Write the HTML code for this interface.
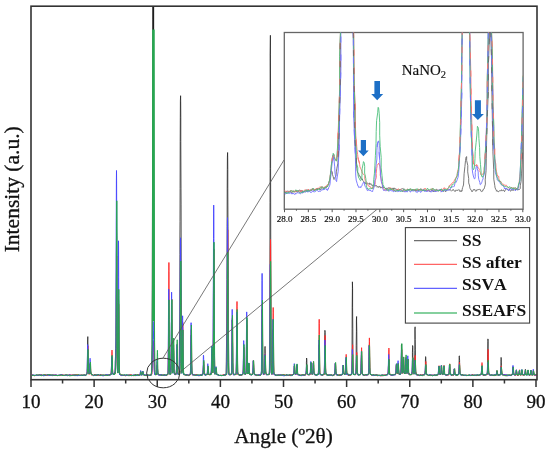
<!DOCTYPE html><html><head><meta charset="utf-8"><title>XRD</title><style>html,body{margin:0;padding:0;background:#fff;}
svg{display:block;}
text{font-family:"Liberation Serif",serif;fill:#111;font-kerning:none;}
.tl{font-size:19px;stroke:#111;stroke-width:0.3px;}
.al{font-size:21px;stroke:#111;stroke-width:0.3px;}
.il{font-size:9px;fill:#111;stroke:#111;stroke-width:0.2px;}
.na{font-size:15px;fill:#111;stroke:#111;stroke-width:0.15px;}
.lg{font-size:17.5px;font-weight:bold;}
</style></head><body><svg width="550" height="451" viewBox="0 0 550 451">
<defs><clipPath id="cm"><rect x="31" y="6.2" width="506" height="373.5"/></clipPath><clipPath id="ci"><rect x="284.3" y="32.5" width="238.8" height="176.7"/></clipPath></defs>
<g clip-path="url(#cm)" fill="none" stroke-linejoin="round">
<polyline stroke="#1e1e1e" stroke-width="0.75" points="32.0,374.8 33.0,375.1 34.0,375.5 35.0,375.4 36.0,375.5 37.0,375.1 38.0,375.6 39.0,375.2 40.0,374.7 41.0,375.1 42.0,374.7 43.0,375.7 44.0,375.7 45.0,375.0 46.0,375.0 47.0,375.5 48.0,374.8 49.0,374.8 50.0,374.8 51.0,375.0 52.0,375.4 53.0,375.8 54.0,374.9 55.0,375.7 56.0,375.3 57.0,375.7 58.0,375.6 59.0,374.8 60.0,375.4 61.0,374.7 62.0,374.6 63.0,375.1 64.0,375.5 65.0,375.3 66.0,374.8 67.0,375.6 68.0,375.7 69.0,374.9 70.0,375.1 71.0,375.4 72.0,375.7 73.0,374.8 74.0,375.3 75.0,375.8 76.0,375.3 77.0,375.5 78.0,375.5 79.0,375.2 80.0,374.9 81.0,375.3 82.0,375.2 83.0,374.9 84.0,375.5 84.8,374.9 85.0,375.0 85.5,375.2 86.0,375.1 86.2,375.1 86.5,374.5 86.8,373.6 87.0,373.7 87.1,372.8 87.2,371.6 87.3,366.3 87.5,355.5 87.5,346.9 87.7,339.9 87.8,336.6 87.8,340.0 88.0,347.2 88.0,350.7 88.0,355.7 88.2,366.1 88.4,371.6 88.5,372.8 88.7,373.7 89.0,373.5 89.0,373.6 89.2,374.0 89.3,373.9 89.5,373.6 89.7,371.6 89.8,368.4 90.0,365.8 90.0,364.8 90.0,364.1 90.2,363.8 90.2,364.8 90.3,366.1 90.5,368.6 90.6,372.2 90.8,373.1 90.8,373.8 91.0,374.3 91.0,374.4 91.3,374.5 91.8,374.8 92.0,375.1 92.3,374.5 93.0,375.4 93.2,375.5 94.0,374.6 95.0,374.8 96.0,374.9 97.0,374.7 98.0,374.8 99.0,375.4 100.0,374.7 101.0,374.7 102.0,375.7 103.0,375.1 104.0,375.2 105.0,375.2 106.0,375.0 107.0,375.1 108.0,374.7 108.8,375.1 109.0,374.7 109.7,374.5 110.0,374.5 110.2,374.6 110.7,374.9 111.0,374.1 111.0,374.5 111.2,372.9 111.4,369.9 111.5,365.9 111.7,361.6 111.8,359.6 111.8,357.7 112.0,358.7 112.0,360.0 112.0,361.7 112.2,366.1 112.3,370.7 112.5,372.9 112.7,373.2 112.8,373.2 113.0,373.6 113.0,373.9 113.5,374.5 113.5,374.5 114.0,374.6 114.0,374.5 114.3,373.8 114.5,374.1 114.8,373.3 114.8,373.4 115.0,372.2 115.0,372.7 115.2,367.6 115.3,361.9 115.5,356.3 115.5,352.2 115.7,348.6 115.8,348.4 115.8,346.0 115.9,345.1 116.0,341.8 116.0,336.6 116.1,320.1 116.2,283.1 116.3,269.4 116.3,256.0 116.5,235.5 116.5,228.9 116.7,236.4 116.8,257.0 116.8,285.3 117.0,313.5 117.0,325.3 117.2,358.9 117.2,363.3 117.3,368.2 117.5,371.0 117.7,373.0 117.8,372.5 117.8,371.0 117.9,370.1 118.0,366.1 118.1,358.3 118.2,352.6 118.2,336.4 118.3,318.9 118.5,305.0 118.5,298.9 118.7,304.7 118.8,319.1 118.8,336.6 119.0,358.6 119.2,370.3 119.5,373.8 119.5,374.5 119.8,373.8 120.0,374.7 120.2,374.6 120.8,374.4 121.0,375.4 121.5,375.3 122.0,374.9 123.0,375.6 124.0,374.7 125.0,375.6 126.0,375.6 127.0,374.7 128.0,375.7 129.0,375.5 130.0,375.7 131.0,374.9 132.0,375.5 133.0,375.5 134.0,375.0 135.0,374.6 136.0,374.6 137.0,375.2 137.7,375.2 138.0,374.7 138.4,375.3 139.0,374.5 139.1,375.0 139.4,375.0 139.8,374.6 140.0,374.2 140.2,374.7 140.3,373.8 140.4,372.8 140.6,371.6 140.7,372.0 140.8,372.7 140.8,373.0 140.9,373.6 141.0,373.1 141.1,374.2 141.2,374.0 141.3,375.2 141.6,374.2 141.8,374.5 142.0,375.2 142.1,374.2 142.2,374.1 142.3,373.9 142.4,373.8 142.6,372.9 142.7,372.7 142.8,371.6 142.8,371.7 142.9,372.5 143.0,373.3 143.1,373.5 143.2,374.7 143.4,375.0 143.7,374.4 143.9,374.8 144.0,374.7 144.3,374.8 144.9,375.3 145.0,375.1 145.8,375.5 146.0,374.6 147.0,375.7 148.0,374.8 149.0,375.4 150.0,375.5 150.2,374.5 150.9,374.9 151.0,375.4 151.6,371.6 151.9,350.7 152.0,344.3 152.2,290.3 152.5,191.8 152.7,91.0 152.8,19.7 152.9,-17.7 153.0,-31.6 153.1,-41.2 153.2,-49.5 153.2,-41.9 153.3,-17.9 153.4,19.7 153.6,91.8 153.8,191.8 154.0,274.6 154.1,289.9 154.2,316.8 154.3,350.2 154.8,372.2 154.9,373.8 155.0,374.5 155.3,374.7 155.6,374.5 155.9,373.9 156.0,374.9 156.2,373.8 156.2,374.3 156.5,374.3 156.7,372.4 156.8,369.2 156.9,367.8 157.0,366.0 157.1,365.7 157.2,365.0 157.2,365.8 157.3,367.1 157.4,369.3 157.6,371.9 157.8,374.3 158.0,374.6 158.1,374.2 158.3,375.0 158.8,375.0 159.0,374.6 159.3,375.0 160.0,374.6 160.2,374.7 161.0,374.6 162.0,374.7 163.0,375.3 164.0,375.5 165.0,375.5 165.8,374.7 166.0,375.6 166.6,374.7 167.0,374.9 167.2,374.8 167.6,374.3 167.8,374.1 168.0,373.7 168.1,372.3 168.3,364.6 168.4,352.4 168.6,341.9 168.7,332.9 168.8,330.3 168.8,332.9 168.9,341.0 169.0,347.2 169.1,352.4 169.2,364.5 169.4,372.1 169.4,372.7 169.7,373.1 169.9,374.1 170.0,373.8 170.1,374.2 170.3,372.1 170.4,370.7 170.8,363.5 170.9,353.7 171.0,351.1 171.2,337.2 171.2,334.8 171.3,329.1 171.4,323.3 171.6,320.1 171.7,319.4 171.8,320.7 171.8,323.8 171.9,328.4 172.0,331.0 172.1,337.7 172.2,347.7 172.3,350.2 172.6,362.3 172.8,368.7 172.8,368.0 173.0,366.6 173.2,361.0 173.2,355.7 173.3,351.3 173.4,349.6 173.6,351.1 173.7,356.3 173.8,360.8 173.8,366.2 173.9,368.2 173.9,370.1 174.0,370.7 174.1,372.1 174.3,373.6 174.7,374.2 174.8,374.1 175.0,374.7 175.1,374.2 175.3,373.9 175.7,374.3 175.8,373.9 176.0,373.2 176.1,373.6 176.3,372.0 176.4,370.1 176.5,368.9 176.7,361.9 176.8,356.6 176.8,351.1 176.9,350.2 177.0,350.5 177.1,351.2 177.2,356.0 177.2,361.2 177.4,368.2 177.6,372.0 177.6,372.5 177.8,373.6 178.0,374.2 178.2,374.3 178.3,373.7 178.6,374.3 178.9,373.0 179.0,371.4 179.2,369.0 179.3,358.0 179.7,319.0 179.9,254.5 179.9,238.1 180.0,221.7 180.1,188.7 180.2,141.3 180.3,117.1 180.4,100.7 180.6,95.7 180.7,101.6 180.8,117.3 180.8,141.3 181.0,188.9 181.1,204.9 181.2,254.0 181.4,318.5 181.8,358.3 182.0,367.3 182.2,365.1 182.2,363.1 182.3,351.5 182.4,341.5 182.6,333.1 182.7,329.9 182.8,332.9 182.8,341.4 182.9,352.5 183.0,356.7 183.1,364.8 183.3,371.8 183.6,373.3 183.8,374.2 184.0,374.5 184.2,374.5 184.8,374.5 185.0,374.5 185.7,374.5 186.0,375.3 187.0,375.1 188.0,375.4 188.2,375.5 188.9,375.2 189.0,375.3 189.6,375.2 189.9,374.9 190.0,374.8 190.2,374.5 190.5,372.1 190.7,366.3 190.8,355.0 190.9,345.8 191.0,341.7 191.1,338.2 191.2,335.1 191.2,337.9 191.3,345.9 191.4,354.3 191.6,365.9 191.8,372.8 192.0,373.6 192.1,373.6 192.3,374.2 192.8,374.6 193.0,374.8 193.3,374.6 194.0,374.7 194.2,374.6 195.0,375.1 196.0,374.7 197.0,375.0 198.0,374.8 199.0,375.3 200.0,375.3 200.6,374.8 201.0,375.7 201.3,374.8 201.9,375.4 202.0,374.6 202.3,374.8 202.7,374.5 202.9,373.9 203.0,373.0 203.1,372.5 203.2,369.6 203.3,367.4 203.4,365.6 203.6,364.7 203.7,365.5 203.8,367.6 203.8,369.7 204.0,372.7 204.2,374.0 204.4,375.0 204.8,374.4 204.8,374.4 205.0,375.3 205.2,374.7 205.7,375.0 205.8,375.3 206.0,374.4 206.2,374.4 206.6,374.7 206.7,374.4 206.9,374.0 207.0,374.7 207.2,374.2 207.4,372.8 207.6,371.2 207.7,369.3 207.8,368.2 207.8,367.7 207.9,368.5 208.0,368.8 208.1,369.6 208.2,371.1 208.3,373.0 208.5,373.5 208.8,374.8 208.8,375.0 209.0,374.1 209.1,374.9 209.4,374.7 209.7,374.9 210.0,374.0 210.1,374.0 210.2,374.5 210.7,374.3 210.8,373.6 210.8,374.3 210.9,373.3 211.0,374.1 211.2,373.1 211.4,369.6 211.6,364.4 211.7,359.3 211.8,356.1 211.8,354.0 211.9,356.2 212.0,357.1 212.1,358.9 212.2,364.0 212.3,368.5 212.5,372.3 212.6,373.0 212.8,372.5 212.8,371.7 212.9,369.8 213.0,367.8 213.1,364.8 213.1,360.6 213.3,333.3 213.4,298.2 213.6,274.0 213.7,256.3 213.8,249.2 213.8,255.9 213.9,273.6 214.0,285.6 214.1,298.2 214.2,332.5 214.3,356.1 214.4,361.3 214.7,371.6 214.8,373.6 214.8,373.2 214.9,374.3 215.0,373.9 215.1,373.6 215.3,373.1 215.3,373.6 215.5,372.0 215.7,370.5 215.8,369.9 215.8,368.5 215.9,367.9 216.0,367.9 216.1,368.3 216.2,369.7 216.2,371.3 216.4,372.3 216.6,374.5 216.8,374.9 216.8,374.5 217.0,374.4 217.2,374.2 217.6,374.7 218.0,374.4 218.2,375.2 218.9,375.2 219.0,375.4 220.0,375.6 221.0,375.0 222.0,375.5 223.0,375.4 224.0,375.2 224.6,374.5 225.0,375.4 225.3,375.0 225.9,373.4 226.0,373.3 226.3,361.6 226.7,330.0 226.9,279.4 227.0,253.6 227.1,226.5 227.2,189.1 227.3,169.8 227.4,157.1 227.6,152.5 227.7,157.0 227.8,169.5 227.8,188.6 228.0,226.8 228.2,278.5 228.4,330.1 228.8,362.1 229.0,371.1 229.2,373.7 229.2,373.7 229.8,374.7 230.0,374.3 230.1,375.1 230.6,374.4 230.7,374.8 231.0,374.6 231.1,374.3 231.3,373.4 231.6,372.3 231.8,362.1 231.9,347.5 232.0,340.3 232.1,334.3 232.2,323.9 232.2,319.8 232.3,324.0 232.4,334.6 232.6,347.4 232.7,362.1 232.9,371.6 233.0,372.8 233.2,374.4 233.4,374.4 233.8,375.2 234.0,374.3 234.4,374.9 234.7,374.7 235.0,374.4 235.2,374.2 235.7,374.4 235.9,374.3 236.0,373.7 236.2,371.7 236.4,362.8 236.6,345.9 236.7,332.8 236.8,322.6 236.8,317.4 236.9,321.6 237.0,327.2 237.1,333.0 237.2,346.7 237.3,362.4 237.5,371.5 237.8,374.2 238.0,374.3 238.1,374.6 238.4,374.4 239.0,374.3 239.1,375.4 239.8,375.4 240.0,374.5 240.8,374.5 241.0,375.3 241.6,375.1 242.0,374.7 242.2,375.1 242.6,374.7 242.8,374.3 243.0,374.0 243.1,373.1 243.3,368.0 243.4,361.9 243.6,355.7 243.7,352.1 243.8,350.2 243.8,351.7 243.9,356.0 244.0,359.1 244.1,361.4 244.2,368.6 244.4,373.1 244.6,372.9 244.7,373.5 244.9,374.3 245.0,373.6 245.2,373.9 245.3,374.4 245.6,374.0 245.8,373.5 245.8,373.5 245.9,373.0 246.0,372.9 246.1,372.2 246.3,363.1 246.4,349.1 246.6,338.2 246.7,328.3 246.8,324.8 246.8,328.7 246.9,337.2 247.0,343.1 247.1,348.8 247.2,358.9 247.2,362.7 247.4,371.1 247.6,373.4 247.7,373.7 247.8,373.6 247.9,373.4 248.0,373.6 248.1,373.5 248.3,371.0 248.3,370.7 248.4,367.9 248.6,366.0 248.7,364.3 248.8,363.7 248.8,364.0 248.9,366.2 249.0,367.0 249.1,368.5 249.2,371.9 249.4,373.1 249.7,373.9 249.8,374.3 249.9,374.0 250.0,374.9 250.3,374.4 250.9,374.5 251.0,374.5 251.2,374.6 251.8,374.5 252.0,374.4 252.2,374.3 252.4,373.7 252.7,372.7 252.9,371.3 253.0,369.0 253.1,367.5 253.2,364.3 253.2,362.4 253.3,360.5 253.4,361.3 253.6,364.8 253.7,367.3 253.8,371.0 254.0,373.3 254.2,374.4 254.6,374.7 254.9,375.0 255.0,374.8 255.6,375.3 256.0,375.2 256.4,375.5 257.0,375.4 258.0,374.6 259.0,375.0 259.1,375.3 259.9,375.2 260.0,374.8 260.6,374.8 260.9,374.8 261.0,374.0 261.2,373.6 261.5,371.1 261.7,360.2 261.9,342.4 261.9,327.2 262.0,320.8 262.1,314.7 262.1,309.5 262.2,314.2 262.4,327.2 262.4,341.8 262.6,360.1 262.8,371.2 262.9,372.6 263.0,373.2 263.1,373.4 263.4,373.5 263.4,374.6 263.8,374.4 263.9,374.0 264.0,373.4 264.1,374.2 264.4,373.0 264.4,372.7 264.6,368.0 264.8,360.2 264.9,353.7 264.9,349.0 265.0,346.7 265.1,346.4 265.1,348.7 265.2,353.8 265.4,360.1 265.5,367.9 265.7,372.1 265.9,373.5 266.0,373.4 266.2,374.5 266.6,374.7 267.0,374.1 267.2,374.4 267.4,374.6 268.0,375.1 268.1,375.0 268.1,374.3 268.8,374.5 269.0,374.5 269.1,374.5 269.4,369.8 269.7,340.9 269.9,264.1 270.0,202.6 270.1,168.4 270.1,102.7 270.2,54.0 270.4,35.3 270.4,54.2 270.6,103.3 270.6,168.2 270.8,264.1 270.9,289.5 271.0,340.6 271.2,370.3 271.4,373.8 271.6,373.9 271.9,373.6 271.9,373.8 272.0,374.4 272.1,373.7 272.4,372.4 272.6,367.6 272.6,364.6 272.8,352.3 272.9,341.5 272.9,332.7 273.0,330.7 273.1,329.5 273.1,332.9 273.2,341.1 273.4,352.0 273.5,364.9 273.7,372.6 273.9,374.2 274.0,374.3 274.2,374.7 274.6,374.3 275.0,374.9 275.2,375.4 276.0,375.2 276.1,374.9 277.0,375.4 278.0,375.6 279.0,375.1 280.0,374.9 281.0,375.0 282.0,375.5 283.0,374.8 284.0,374.9 285.0,375.8 286.0,374.7 287.0,374.7 288.0,375.6 289.0,375.4 290.0,375.6 291.0,375.6 291.4,374.7 292.0,375.3 292.1,374.7 292.8,375.1 293.0,374.2 293.1,375.0 293.4,374.1 293.7,374.1 293.9,372.8 293.9,372.5 294.0,370.7 294.1,369.4 294.1,367.8 294.2,366.2 294.4,366.5 294.4,365.9 294.6,368.3 294.6,369.5 294.8,372.0 295.0,374.0 295.2,374.3 295.6,373.8 295.6,374.1 295.9,374.0 296.0,374.3 296.2,373.7 296.4,372.2 296.6,369.3 296.6,367.9 296.8,366.4 296.9,365.4 296.9,366.6 297.0,366.7 297.1,367.9 297.1,369.5 297.3,372.2 297.4,372.4 297.5,374.0 297.8,374.5 298.0,375.2 298.1,374.4 298.4,374.4 299.0,374.9 299.1,375.3 299.9,374.8 300.0,375.7 301.0,374.9 302.0,375.3 303.0,374.6 303.6,375.1 304.0,375.3 304.4,374.9 305.0,374.5 305.1,374.8 305.4,375.0 305.8,373.8 306.0,373.4 306.2,370.4 306.4,366.6 306.4,362.2 306.6,360.1 306.6,358.0 306.8,360.2 306.9,361.9 306.9,365.8 307.0,367.3 307.1,370.0 307.3,373.5 307.6,373.6 307.9,374.4 308.0,374.5 308.2,374.0 308.6,374.9 308.9,375.2 309.0,374.6 309.2,374.2 309.6,374.1 309.9,374.1 310.0,374.5 310.2,373.6 310.4,371.8 310.4,370.9 310.6,368.4 310.6,365.6 310.8,363.3 310.9,363.1 310.9,363.3 311.0,364.8 311.1,365.9 311.1,368.4 311.3,370.9 311.5,373.2 311.8,374.3 312.0,373.8 312.1,373.5 312.1,373.5 312.4,374.0 312.7,373.2 312.9,371.6 313.0,369.9 313.1,368.3 313.1,365.6 313.2,364.1 313.4,363.0 313.4,363.1 313.6,365.4 313.6,368.4 313.8,371.1 313.9,372.7 314.0,372.9 314.2,374.6 314.6,374.9 314.9,374.5 315.0,374.5 315.6,374.9 316.0,374.6 316.1,375.5 316.4,375.1 316.9,374.8 317.0,374.5 317.4,374.7 317.9,374.5 318.0,374.5 318.1,374.2 318.4,372.9 318.6,367.2 318.8,359.4 318.9,352.5 318.9,347.5 319.0,345.2 319.1,344.8 319.1,346.9 319.2,352.5 319.4,360.0 319.5,368.2 319.7,373.2 319.9,373.8 320.0,374.0 320.2,373.8 320.6,374.8 321.0,374.7 321.2,374.7 321.9,375.3 322.0,375.5 322.1,375.1 322.8,375.1 323.0,375.0 323.4,375.0 323.8,374.5 324.0,374.6 324.1,373.6 324.3,372.3 324.5,364.7 324.6,351.8 324.8,341.9 324.9,332.6 324.9,330.3 325.0,331.0 325.1,332.7 325.1,342.1 325.2,351.8 325.4,365.0 325.6,371.6 325.9,374.4 326.0,374.6 326.1,374.3 326.6,374.6 327.0,374.9 327.1,374.5 327.9,375.6 328.0,375.1 329.0,375.3 330.0,375.3 331.0,374.7 332.0,375.3 332.4,375.6 333.0,375.6 333.1,374.9 333.8,374.7 334.0,375.3 334.1,374.9 334.4,374.5 334.7,373.8 334.9,372.0 335.0,369.4 335.1,368.2 335.1,365.7 335.2,363.4 335.4,363.1 335.4,363.2 335.6,366.0 335.6,368.1 335.8,371.4 336.0,373.1 336.2,374.7 336.6,374.2 336.9,374.3 337.0,375.2 337.6,374.4 338.0,374.8 338.4,375.6 339.0,374.7 340.0,375.1 340.1,375.3 340.9,375.1 341.0,375.0 341.6,375.1 341.9,374.1 342.0,374.3 342.2,373.9 342.5,374.3 342.7,372.5 342.9,369.0 342.9,367.3 343.0,366.6 343.1,365.6 343.1,365.1 343.2,365.8 343.4,366.7 343.4,368.8 343.6,371.6 343.8,373.2 343.9,373.3 344.0,373.8 344.1,374.0 344.4,374.2 344.4,373.9 344.8,374.3 344.9,374.3 345.0,373.7 345.1,374.4 345.4,373.5 345.4,373.5 345.6,370.5 345.8,366.9 345.9,363.6 345.9,361.4 346.0,359.9 346.1,359.8 346.1,361.4 346.2,363.2 346.4,366.5 346.5,370.3 346.7,372.6 346.9,374.5 347.0,373.5 347.2,374.4 347.6,374.7 348.0,375.2 348.2,375.4 349.0,375.2 349.1,374.9 349.4,375.4 350.0,374.5 350.2,375.0 350.9,374.4 351.0,375.1 351.2,373.9 351.6,374.0 351.8,370.2 352.0,355.7 352.1,328.4 352.2,307.3 352.4,288.5 352.4,281.8 352.6,288.9 352.6,307.1 352.8,329.1 352.9,355.1 353.0,364.8 353.1,370.2 353.4,373.3 353.6,374.6 353.6,374.2 354.0,374.4 354.1,374.8 354.4,374.7 354.6,374.6 354.9,374.4 355.0,374.6 355.4,373.7 355.4,374.4 355.6,373.6 355.9,371.3 356.0,367.7 356.1,362.5 356.2,345.3 356.4,331.2 356.4,321.2 356.6,316.5 356.6,320.9 356.8,331.2 356.9,345.0 357.0,362.2 357.2,371.6 357.4,374.1 357.8,374.6 358.0,374.7 358.1,375.1 358.4,375.1 358.8,374.9 359.0,374.3 359.2,374.8 359.6,374.7 359.9,374.5 360.0,375.0 360.2,374.4 360.6,374.4 360.8,373.4 361.0,369.9 361.1,363.7 361.2,360.0 361.4,356.1 361.4,355.2 361.6,355.9 361.6,359.3 361.8,364.5 361.9,369.9 362.0,372.0 362.1,372.5 362.4,374.2 362.6,374.9 363.0,375.1 363.1,374.8 363.6,374.7 364.0,375.5 364.4,375.5 365.0,375.4 366.0,374.9 366.2,374.5 367.0,374.8 367.1,375.2 367.6,374.4 368.0,374.3 368.1,374.2 368.4,374.4 368.6,372.4 368.8,367.8 368.9,359.2 369.0,356.6 369.1,352.3 369.1,347.6 369.2,344.9 369.4,347.4 369.4,353.2 369.6,358.9 369.7,367.3 369.9,372.3 370.0,373.1 370.1,374.3 370.4,374.2 370.9,374.8 371.0,374.3 371.4,374.9 372.0,374.8 372.2,375.3 373.0,374.9 374.0,374.7 375.0,375.2 376.0,374.9 377.0,374.6 378.0,375.2 379.0,375.3 380.0,375.5 381.0,375.5 382.0,374.6 383.0,375.1 384.0,374.9 385.0,375.5 385.8,375.2 386.0,374.7 386.6,375.0 387.0,375.2 387.1,374.9 387.6,374.6 387.9,374.1 388.0,374.3 388.1,373.6 388.3,370.6 388.4,367.3 388.6,364.0 388.6,360.9 388.8,359.9 388.9,360.4 388.9,364.0 389.0,364.7 389.1,366.5 389.2,371.1 389.4,373.7 389.6,373.7 389.9,374.5 390.0,374.3 390.4,375.0 390.9,374.9 391.0,375.1 391.8,375.2 392.0,375.6 393.0,374.8 393.4,374.4 394.0,374.7 394.1,374.4 394.8,374.3 395.0,374.1 395.1,374.3 395.4,374.4 395.7,373.2 395.9,371.9 395.9,371.5 396.0,370.4 396.1,369.1 396.1,367.4 396.2,365.9 396.4,365.2 396.4,365.2 396.6,367.3 396.6,369.3 396.8,371.4 396.9,372.6 397.0,373.4 397.2,372.9 397.5,372.5 397.6,373.4 397.7,371.4 397.9,368.3 397.9,366.2 398.0,364.8 398.1,363.9 398.1,363.5 398.2,364.6 398.4,366.7 398.4,368.0 398.6,370.4 398.6,371.8 398.8,373.3 399.0,374.3 399.1,373.8 399.4,374.4 399.8,374.7 399.9,374.2 400.0,373.8 400.4,373.5 400.4,373.5 400.6,373.7 400.9,372.7 401.0,370.0 401.1,367.0 401.1,364.2 401.2,358.4 401.4,351.5 401.4,345.5 401.6,344.1 401.6,346.4 401.8,351.4 401.9,359.0 402.0,367.3 402.2,372.2 402.2,372.4 402.4,372.6 402.6,373.2 402.8,372.3 402.8,372.8 402.9,372.3 403.0,369.5 403.1,366.4 403.2,362.4 403.4,360.1 403.4,359.2 403.6,360.8 403.6,363.2 403.8,366.3 403.9,370.3 404.0,371.5 404.1,372.2 404.2,372.6 404.4,373.5 404.6,373.2 404.6,373.3 404.9,373.0 404.9,373.8 405.0,372.8 405.1,372.5 405.2,372.3 405.4,369.7 405.6,365.8 405.6,362.4 405.8,360.8 405.9,359.3 405.9,360.7 406.0,361.7 406.1,362.4 406.1,366.4 406.2,368.6 406.3,370.3 406.4,371.8 406.5,372.1 406.6,372.4 406.8,372.6 406.9,372.6 407.0,373.1 407.1,373.4 407.2,371.9 407.4,370.5 407.4,368.8 407.6,366.7 407.6,362.9 407.8,360.1 407.9,359.2 407.9,361.0 408.0,362.1 408.1,362.6 408.1,366.3 408.3,370.5 408.5,372.9 408.8,373.9 408.9,374.1 409.0,373.7 409.1,373.7 409.4,373.9 409.6,374.0 410.0,374.5 410.1,374.5 410.4,374.2 410.9,374.7 411.0,374.6 411.1,374.5 411.4,374.5 411.8,374.4 412.0,372.0 412.1,372.3 412.2,367.3 412.4,359.5 412.4,352.5 412.6,347.7 412.6,345.5 412.8,346.7 412.9,352.1 412.9,359.3 413.0,362.3 413.1,367.7 413.3,372.5 413.4,373.6 413.6,373.7 413.9,373.9 414.0,373.1 414.1,373.5 414.2,373.4 414.4,371.8 414.6,364.0 414.8,350.3 414.9,339.6 414.9,330.1 415.0,327.8 415.1,326.8 415.1,329.4 415.2,339.6 415.4,349.8 415.5,364.1 415.6,371.2 415.7,371.6 415.9,374.0 416.0,374.1 416.2,374.7 416.6,375.0 417.0,374.4 417.2,374.4 418.0,375.4 418.1,374.6 419.0,375.6 420.0,374.5 421.0,375.2 422.0,375.4 422.6,374.6 423.0,375.0 423.4,374.9 424.0,374.5 424.1,374.8 424.4,374.1 424.8,373.5 425.0,372.7 425.2,370.3 425.4,365.6 425.4,361.0 425.6,357.5 425.6,356.6 425.8,358.2 425.9,361.8 425.9,365.0 426.0,367.0 426.1,370.4 426.3,372.6 426.6,374.5 426.9,375.0 427.0,375.0 427.2,374.6 427.9,375.2 428.0,375.2 428.6,375.4 429.0,374.8 430.0,375.6 431.0,375.5 432.0,375.1 433.0,375.5 434.0,375.0 435.0,375.6 435.9,375.5 436.0,375.3 436.6,375.1 437.0,374.9 437.2,375.0 437.6,374.7 437.9,374.3 438.0,374.0 438.2,373.9 438.4,372.9 438.4,372.3 438.6,369.4 438.6,367.5 438.8,367.0 438.9,366.4 438.9,366.2 439.0,367.5 439.1,368.2 439.1,369.4 439.3,372.1 439.5,373.2 439.8,374.0 440.0,374.4 440.1,374.5 440.1,374.7 440.4,374.2 440.7,374.2 440.9,372.6 440.9,372.2 441.0,371.1 441.1,369.5 441.1,368.5 441.2,365.9 441.4,365.9 441.4,366.4 441.6,368.2 441.6,369.7 441.8,371.9 441.9,372.7 442.0,373.1 442.2,374.6 442.6,374.6 442.6,374.6 442.9,374.1 443.0,373.7 443.2,374.2 443.4,371.7 443.6,370.2 443.6,368.1 443.8,366.2 443.9,366.4 443.9,366.6 444.0,366.6 444.1,368.5 444.1,370.5 444.3,372.5 444.4,372.6 444.5,373.6 444.8,374.2 445.0,374.2 445.1,374.5 445.4,374.3 446.0,375.0 446.1,375.3 446.6,374.7 446.9,374.6 447.0,375.5 447.4,374.5 447.9,374.7 448.0,374.7 448.4,374.1 448.6,374.6 448.9,373.8 449.0,373.4 449.1,371.6 449.2,369.4 449.4,366.8 449.4,365.0 449.6,364.0 449.6,364.9 449.8,366.6 449.9,368.8 450.0,372.4 450.2,373.4 450.4,374.0 450.8,374.2 451.0,374.2 451.1,374.5 451.4,375.4 451.8,374.6 452.0,375.3 452.1,375.1 452.6,374.7 452.8,374.7 453.0,375.0 453.1,374.7 453.4,375.2 453.7,374.5 453.9,372.7 454.0,371.9 454.1,372.1 454.1,369.9 454.2,368.9 454.4,368.8 454.4,369.8 454.6,370.2 454.6,371.5 454.8,373.6 455.0,374.5 455.2,375.0 455.6,374.6 455.9,374.5 456.0,375.3 456.4,374.6 456.6,375.2 457.0,375.3 457.1,374.6 457.4,374.9 457.8,374.4 458.0,374.7 458.1,373.9 458.4,373.8 458.7,373.1 458.9,369.9 459.0,366.6 459.1,364.6 459.1,360.3 459.2,356.2 459.4,355.8 459.4,357.3 459.6,360.5 459.6,365.0 459.8,370.3 460.0,372.7 460.2,373.8 460.6,374.9 460.9,374.1 461.0,374.6 461.6,374.6 462.0,374.9 462.4,374.9 463.0,375.0 464.0,375.5 465.0,375.4 466.0,375.5 467.0,375.7 468.0,375.3 469.0,374.7 470.0,375.3 471.0,375.4 472.0,374.6 473.0,374.9 474.0,375.6 475.0,375.3 476.0,374.9 477.0,374.9 478.0,375.2 478.9,375.6 479.0,374.6 479.6,375.0 480.0,374.6 480.2,374.5 480.6,374.2 480.9,374.5 481.0,374.3 481.2,374.4 481.4,372.0 481.6,369.6 481.6,367.8 481.8,366.6 481.9,365.9 481.9,366.7 482.0,367.6 482.1,368.6 482.1,370.2 482.3,372.7 482.5,374.3 482.8,374.6 483.0,375.2 483.1,374.8 483.4,375.4 484.0,374.9 484.1,374.6 484.9,375.4 484.9,374.8 485.0,374.8 485.8,374.9 486.0,375.0 486.4,374.7 486.8,374.7 487.0,374.1 487.1,374.4 487.3,372.1 487.5,366.1 487.6,357.0 487.8,348.1 487.9,341.3 487.9,338.9 488.0,339.1 488.1,341.2 488.1,348.0 488.2,357.1 488.4,366.5 488.6,372.5 488.9,373.5 489.0,374.2 489.1,374.5 489.6,374.8 490.0,374.4 490.1,375.4 490.9,375.3 491.0,375.4 492.0,374.8 493.0,375.5 493.9,374.7 494.0,374.7 494.6,375.1 495.0,374.5 495.2,375.4 495.6,374.7 495.9,375.1 496.0,375.0 496.2,375.1 496.4,373.6 496.6,373.4 496.6,372.0 496.8,370.6 496.9,371.5 496.9,371.3 497.0,372.0 497.1,372.0 497.1,373.0 497.3,373.8 497.5,375.0 497.8,375.1 498.0,374.9 498.1,375.0 498.1,374.5 498.4,374.5 498.9,375.4 499.0,374.6 499.1,374.5 499.6,374.4 499.9,374.3 499.9,374.7 500.0,374.5 500.2,374.2 500.5,373.6 500.7,370.2 500.9,365.6 500.9,361.7 501.0,359.9 501.1,359.0 501.1,357.4 501.2,358.9 501.4,362.2 501.4,365.7 501.6,370.3 501.8,373.2 502.0,373.5 502.1,373.8 502.4,375.0 502.8,375.2 503.0,375.0 503.4,374.7 504.0,375.3 504.1,374.6 505.0,375.3 506.0,375.7 507.0,375.8 508.0,375.6 509.0,374.8 510.0,375.1 510.1,374.8 510.9,375.5 511.0,375.3 511.4,375.5 511.9,374.6 512.0,374.6 512.1,375.0 512.4,374.1 512.6,372.4 512.8,370.1 512.9,368.3 513.0,366.9 513.0,366.7 513.0,366.8 513.1,367.6 513.2,369.5 513.4,370.0 513.5,372.1 513.7,373.4 514.0,374.8 514.0,374.7 514.1,374.5 514.2,374.7 514.6,375.2 514.8,374.4 515.0,375.3 515.1,374.4 515.2,375.0 515.5,375.1 515.7,373.8 515.9,373.2 516.0,372.5 516.0,372.7 516.1,370.7 516.2,370.7 516.4,369.9 516.5,369.8 516.5,371.5 516.6,371.9 516.8,373.0 517.0,374.6 517.1,374.5 517.2,375.2 517.5,375.3 517.8,375.3 518.0,374.2 518.0,374.7 518.1,375.3 518.5,374.9 518.5,374.7 518.7,374.6 518.9,374.6 518.9,374.3 519.0,373.0 519.0,373.3 519.1,371.9 519.2,371.7 519.4,371.0 519.5,371.7 519.5,372.2 519.6,373.3 519.8,373.8 520.0,374.4 520.2,374.8 520.5,374.4 520.6,375.3 521.0,374.1 521.0,374.6 521.2,373.9 521.4,374.1 521.5,372.3 521.6,371.5 521.8,370.4 521.9,370.8 522.0,371.2 522.0,371.6 522.0,371.8 522.1,372.1 522.3,374.1 522.4,373.7 522.5,374.0 522.8,374.4 523.0,374.3 523.0,374.6 523.1,374.5 523.5,374.6 523.8,374.8 524.0,374.5 524.0,374.3 524.1,375.1 524.5,374.9 524.7,373.9 524.9,374.2 524.9,373.2 525.0,373.2 525.0,372.7 525.1,371.3 525.2,370.4 525.4,369.3 525.5,369.9 525.5,370.7 525.6,372.4 525.8,373.4 526.0,374.5 526.2,375.1 526.5,374.1 526.6,374.9 527.0,374.6 527.0,374.9 527.2,375.0 527.4,374.1 527.5,373.0 527.6,371.5 527.8,370.8 527.9,370.9 528.0,371.5 528.0,371.3 528.0,372.2 528.1,373.2 528.3,374.3 528.4,374.5 528.5,373.9 528.6,374.9 528.8,374.8 529.0,375.1 529.0,374.9 529.2,374.5 529.5,375.4 529.6,374.6 530.0,375.2 530.0,374.3 530.0,374.9 530.2,374.7 530.4,373.4 530.4,373.8 530.5,372.1 530.6,371.1 530.8,370.6 530.9,370.4 531.0,370.9 531.0,371.0 531.0,371.7 531.1,373.0 531.3,373.8 531.5,374.5 531.8,374.5 532.0,375.2 532.0,375.0 532.1,374.3 532.5,375.1 532.7,374.8 532.9,374.1 533.0,373.6 533.0,372.2 533.1,372.2 533.2,371.2 533.4,370.7 533.5,370.6 533.5,371.5 533.6,372.4 533.8,373.5 533.9,373.9 534.0,374.8 534.2,375.4 534.5,374.5 535.0,374.9 535.0,374.9 535.5,375.3 536.0,374.9 536.4,375.0"/>
<polyline stroke="#ff2a2a" stroke-width="0.95" points="32.0,375.3 33.0,374.8 34.0,375.8 35.0,375.7 36.0,375.2 37.0,375.4 38.0,374.9 39.0,374.9 40.0,374.9 41.0,375.4 42.0,374.9 43.0,375.8 44.0,374.7 45.0,374.8 46.0,374.7 47.0,375.5 48.0,375.0 49.0,375.2 50.0,375.0 51.0,375.4 52.0,375.1 53.0,374.8 54.0,375.1 55.0,375.0 56.0,374.7 57.0,375.6 58.0,375.4 59.0,375.4 60.0,375.7 61.0,375.1 62.0,375.1 63.0,375.1 64.0,375.1 65.0,375.4 66.0,374.6 67.0,375.2 68.0,375.2 69.0,375.0 70.0,374.6 71.0,375.4 72.0,374.6 73.0,375.3 74.0,374.8 75.0,374.6 76.0,374.8 77.0,374.7 78.0,374.8 79.0,375.4 80.0,375.5 81.0,375.0 82.0,375.4 83.0,375.1 84.0,375.1 84.9,375.5 85.0,374.8 85.7,375.3 86.0,375.0 86.3,374.9 86.7,373.8 87.0,373.4 87.2,372.0 87.3,371.7 87.5,368.3 87.6,360.2 87.7,353.6 87.8,347.4 87.9,346.1 88.0,348.2 88.1,353.5 88.2,360.0 88.3,367.2 88.5,372.0 88.7,373.7 88.8,373.9 89.0,374.3 89.1,373.8 89.4,374.2 89.5,373.2 89.7,373.7 89.8,371.7 90.0,367.9 90.1,365.1 90.2,363.6 90.3,363.0 90.4,363.4 90.5,365.1 90.6,367.9 90.8,371.8 90.9,372.6 91.0,373.9 91.0,373.3 91.2,373.8 91.5,374.0 91.9,375.3 92.0,375.2 92.5,374.7 93.0,374.6 93.3,375.3 94.0,375.6 95.0,374.6 96.0,375.4 97.0,375.6 98.0,375.2 99.0,375.3 100.0,375.6 101.0,374.9 102.0,374.9 103.0,375.4 104.0,375.3 105.0,375.2 106.0,375.0 107.0,375.7 108.0,374.9 109.0,375.3 109.8,375.4 110.0,374.8 110.4,374.2 110.8,374.1 111.0,373.6 111.1,373.6 111.3,372.3 111.5,368.4 111.7,361.6 111.8,356.1 111.9,351.8 112.0,350.1 112.1,351.8 112.2,356.0 112.3,361.9 112.5,368.6 112.7,372.2 112.8,373.6 112.9,373.6 113.0,374.2 113.2,374.4 113.6,374.0 113.7,374.2 114.0,374.2 114.2,374.0 114.5,373.5 114.6,373.4 114.9,374.1 115.0,373.6 115.1,372.9 115.2,372.9 115.3,370.1 115.5,367.0 115.6,364.4 115.7,361.5 115.8,359.3 115.9,358.6 116.0,356.2 116.0,353.0 116.1,350.1 116.2,331.4 116.4,300.1 116.5,289.2 116.5,277.9 116.6,262.0 116.7,256.0 116.8,261.5 116.9,279.2 117.0,301.3 117.1,324.7 117.2,334.8 117.3,362.1 117.4,365.4 117.5,369.3 117.6,371.8 117.8,372.3 117.9,372.7 118.0,371.3 118.0,370.1 118.2,358.8 118.3,353.2 118.4,339.7 118.5,322.6 118.6,309.4 118.7,304.2 118.8,309.4 118.9,323.5 119.0,339.7 119.2,359.6 119.3,371.5 119.6,373.7 119.7,373.4 119.9,373.9 120.0,374.3 120.3,374.8 120.9,375.3 121.0,374.9 121.7,374.7 122.0,375.2 123.0,375.6 124.0,375.0 125.0,375.7 126.0,375.7 127.0,375.3 128.0,375.2 129.0,374.8 130.0,374.7 131.0,374.6 132.0,375.3 133.0,375.5 134.0,375.8 135.0,375.3 136.0,375.8 137.0,375.1 137.8,374.7 138.0,374.6 138.6,374.9 139.0,375.1 139.2,375.7 139.6,374.8 139.9,374.6 140.0,375.1 140.2,374.6 140.3,374.3 140.5,372.9 140.6,373.1 140.7,372.7 140.8,372.2 140.9,372.7 141.0,372.5 141.1,372.8 141.2,373.9 141.3,374.8 141.4,374.6 141.7,374.4 142.0,374.4 142.2,374.2 142.4,374.3 142.4,374.7 142.6,373.8 142.7,373.0 142.8,372.4 142.9,371.6 143.0,372.5 143.1,372.4 143.2,373.4 143.3,373.6 143.6,375.2 143.8,374.5 144.0,375.1 144.1,375.2 144.5,375.2 145.0,375.3 145.1,375.0 145.9,375.5 146.0,375.7 147.0,375.3 148.0,375.8 149.0,375.5 150.0,374.5 150.3,375.3 151.0,374.5 151.1,375.1 151.7,374.4 152.0,373.9 152.1,372.1 152.4,368.4 152.7,359.6 152.8,351.7 153.0,345.9 153.1,343.1 153.2,342.2 153.3,341.3 153.4,342.1 153.5,343.2 153.6,346.7 153.8,352.5 153.9,360.3 154.0,361.6 154.2,368.3 154.3,370.1 154.5,372.8 154.9,374.1 155.0,374.3 155.1,374.8 155.5,374.6 155.7,374.5 156.0,374.9 156.1,374.3 156.3,374.6 156.4,373.5 156.7,373.3 156.8,371.4 157.0,367.1 157.1,365.2 157.2,362.5 157.3,362.1 157.4,362.9 157.5,364.6 157.6,368.3 157.8,370.9 157.9,372.9 158.0,373.5 158.2,373.6 158.5,374.1 158.9,375.1 159.0,374.3 159.5,375.0 160.0,375.5 160.3,375.0 161.0,375.5 162.0,375.5 163.0,374.8 164.0,374.6 165.0,375.4 165.9,375.5 166.0,375.5 166.7,375.2 167.0,374.8 167.3,375.2 167.7,374.6 168.0,374.1 168.2,370.3 168.4,350.8 168.6,319.6 168.7,293.0 168.8,270.7 168.9,262.5 169.0,271.5 169.1,292.9 169.2,319.3 169.3,350.9 169.6,369.6 169.6,371.6 169.8,374.1 170.0,373.9 170.1,374.2 170.2,373.4 170.5,373.5 170.6,373.9 170.9,373.8 171.0,372.5 171.1,371.4 171.2,370.6 171.3,358.1 171.4,351.9 171.5,336.6 171.6,319.4 171.7,305.4 171.8,299.0 171.9,305.4 172.0,318.9 172.1,336.5 172.2,358.2 172.4,367.9 172.4,369.9 172.7,372.2 172.9,371.4 173.0,371.5 173.2,366.5 173.3,359.0 173.4,352.5 173.5,346.2 173.6,344.9 173.7,346.4 173.8,352.5 173.9,359.0 174.0,364.8 174.1,367.7 174.1,369.4 174.2,372.0 174.5,373.7 174.8,373.8 174.9,373.8 175.0,374.7 175.2,374.8 175.5,373.8 175.8,374.6 175.9,374.3 176.0,373.4 176.2,373.2 176.4,372.3 176.6,369.7 176.7,367.8 176.8,358.8 176.9,352.4 177.0,347.4 177.1,344.4 177.2,346.5 177.3,352.3 177.4,359.4 177.6,367.9 177.7,372.2 177.8,371.8 178.0,373.3 178.3,373.6 178.5,374.3 178.7,374.2 179.0,374.8 179.1,374.4 179.3,374.3 179.5,374.3 179.8,372.6 180.0,369.1 180.1,366.8 180.1,363.7 180.2,349.6 180.4,328.1 180.5,313.7 180.6,303.4 180.7,299.9 180.8,303.2 180.9,314.6 181.0,328.8 181.2,349.3 181.2,354.6 181.3,365.6 181.6,372.8 181.9,372.8 182.0,372.9 182.2,371.7 182.3,366.2 182.3,362.6 182.5,348.8 182.6,336.1 182.7,326.4 182.8,322.6 182.9,326.8 183.0,335.9 183.1,348.6 183.2,363.1 183.4,372.1 183.7,373.7 184.0,374.4 184.4,375.2 185.0,374.3 185.8,375.4 186.0,375.0 187.0,374.8 188.0,374.8 188.3,374.7 189.0,375.4 189.1,374.6 189.7,375.3 190.0,374.5 190.1,374.2 190.4,374.3 190.7,372.2 190.8,365.2 191.0,351.7 191.1,342.0 191.2,332.7 191.3,329.6 191.4,333.2 191.5,341.6 191.6,351.9 191.8,364.8 191.9,372.4 192.0,372.8 192.2,374.0 192.5,374.8 192.9,374.4 193.0,375.4 193.5,374.4 194.0,374.9 194.3,375.4 195.0,374.8 196.0,374.9 197.0,374.8 198.0,375.8 199.0,375.6 200.0,374.6 200.7,375.1 201.0,374.6 201.5,374.4 202.0,374.5 202.1,375.0 202.5,374.6 202.8,373.9 203.0,373.7 203.1,372.9 203.2,371.0 203.4,367.3 203.5,365.4 203.6,362.7 203.7,362.2 203.8,362.6 203.9,364.9 204.0,367.9 204.2,370.9 204.3,373.4 204.6,374.4 204.9,373.9 205.0,374.2 205.3,374.1 205.8,374.8 205.9,374.3 206.0,374.8 206.4,374.3 206.7,374.7 206.8,374.3 207.0,374.7 207.1,374.7 207.3,374.4 207.6,372.2 207.7,370.4 207.8,368.4 207.9,366.2 208.0,366.4 208.1,367.0 208.2,367.6 208.3,370.2 208.4,372.5 208.7,373.9 208.9,374.5 209.0,374.1 209.2,374.9 209.6,374.9 209.8,374.2 210.0,375.1 210.2,374.8 210.4,373.9 210.8,373.6 210.9,373.7 211.0,374.1 211.1,374.0 211.3,373.0 211.6,368.8 211.7,361.1 211.8,355.5 211.9,350.8 212.0,349.4 212.1,351.2 212.2,355.6 212.3,361.7 212.4,368.2 212.7,372.4 212.7,372.8 212.9,372.8 213.0,371.6 213.1,369.4 213.2,364.9 213.2,361.1 213.4,332.9 213.6,298.4 213.7,274.2 213.8,255.9 213.9,249.6 214.0,256.1 214.1,273.7 214.2,297.6 214.3,332.9 214.5,357.0 214.6,361.7 214.8,371.7 214.9,373.7 215.0,373.9 215.1,373.9 215.2,373.2 215.4,373.4 215.5,373.2 215.7,372.5 215.8,370.3 215.9,369.4 216.0,368.2 216.1,367.8 216.2,368.1 216.3,369.4 216.4,370.4 216.6,373.2 216.8,374.4 216.9,374.7 217.0,374.8 217.3,374.4 217.7,374.6 218.0,374.4 218.3,375.3 219.0,375.6 219.1,375.6 220.0,375.3 221.0,375.5 222.0,375.6 223.0,374.7 224.0,374.6 224.7,375.5 225.0,375.6 225.5,375.2 226.0,374.9 226.1,374.6 226.5,374.8 226.8,372.2 227.0,363.8 227.1,360.4 227.2,326.4 227.4,286.6 227.5,258.7 227.6,237.2 227.7,229.9 227.8,237.4 227.9,258.9 228.0,286.7 228.2,326.6 228.3,359.5 228.6,372.2 228.9,374.2 229.0,374.5 229.3,375.1 229.4,374.4 229.9,374.3 230.0,374.9 230.2,374.6 230.7,374.9 230.8,374.8 231.0,374.5 231.2,374.7 231.5,373.5 231.8,372.0 231.9,361.9 232.0,357.7 232.1,346.2 232.2,333.0 232.3,321.6 232.4,317.8 232.5,321.8 232.6,332.7 232.7,346.1 232.8,362.2 233.0,370.0 233.1,371.9 233.3,374.4 233.6,374.9 234.0,374.2 234.6,374.4 234.8,374.6 235.0,374.8 235.4,374.8 235.8,374.4 236.0,374.1 236.1,374.5 236.3,371.6 236.6,359.3 236.7,337.6 236.8,321.0 236.9,305.9 237.0,301.5 237.1,306.7 237.2,321.2 237.3,337.9 237.4,359.2 237.7,370.9 237.9,374.5 238.0,373.8 238.2,373.8 238.6,374.5 239.0,375.0 239.2,374.9 240.0,375.3 240.9,375.2 241.0,375.3 241.7,375.4 242.0,374.2 242.3,374.2 242.7,374.1 243.0,373.5 243.2,372.7 243.4,368.4 243.6,360.4 243.7,354.7 243.8,349.5 243.9,347.2 244.0,349.4 244.1,354.3 244.2,360.9 244.3,368.6 244.6,371.9 244.7,373.4 244.8,373.6 245.0,374.1 245.1,373.5 245.3,374.6 245.5,373.8 245.7,374.0 245.9,373.6 246.0,373.6 246.1,373.6 246.2,371.6 246.4,362.2 246.6,347.4 246.7,333.8 246.8,324.2 246.9,319.8 247.0,323.4 247.1,334.7 247.2,347.2 247.3,358.0 247.3,362.6 247.6,370.7 247.7,372.6 247.8,373.2 248.0,373.9 248.1,373.2 248.2,373.6 248.4,371.4 248.5,370.7 248.6,368.7 248.7,365.7 248.8,364.8 248.9,363.7 249.0,363.9 249.1,365.9 249.2,369.0 249.3,371.6 249.6,373.9 249.8,374.5 249.9,374.3 250.0,374.2 250.1,374.7 250.5,375.2 251.0,374.5 251.1,374.7 251.3,374.2 251.9,374.0 252.0,374.1 252.3,374.2 252.6,374.2 252.8,373.7 253.0,372.0 253.1,371.4 253.2,366.9 253.3,364.7 253.4,361.7 253.5,360.8 253.6,361.9 253.7,364.9 253.8,367.2 253.9,370.4 254.0,371.6 254.2,373.4 254.4,374.3 254.7,374.1 255.0,374.4 255.1,374.3 255.7,375.0 256.0,374.9 256.5,374.8 257.0,375.1 258.0,375.4 259.0,375.2 259.3,375.3 260.0,374.8 260.1,375.4 260.7,374.2 261.0,373.9 261.1,373.9 261.4,373.8 261.6,371.0 261.9,359.3 262.0,339.2 262.1,323.8 262.2,309.5 262.3,305.0 262.4,310.6 262.5,323.1 262.6,339.9 262.8,360.0 262.9,371.0 263.0,372.6 263.2,373.1 263.5,374.1 263.6,374.4 263.9,374.0 264.0,374.4 264.3,374.3 264.5,373.5 264.6,372.7 264.8,369.7 264.9,364.5 265.0,359.9 265.1,355.7 265.2,354.5 265.3,356.4 265.4,359.3 265.5,363.7 265.6,370.1 265.9,372.8 266.0,374.2 266.1,374.3 266.4,374.6 266.8,374.4 267.0,374.3 267.4,374.3 267.5,374.5 268.0,374.8 268.2,374.9 268.3,374.3 268.9,374.5 269.0,374.3 269.3,374.7 269.6,372.2 269.9,361.2 270.0,340.2 270.1,330.5 270.2,292.0 270.3,266.1 270.4,247.0 270.5,239.5 270.6,247.1 270.7,266.9 270.8,292.3 270.9,329.5 271.0,339.4 271.1,360.8 271.4,372.1 271.6,373.1 271.7,373.7 272.0,374.3 272.1,374.0 272.3,373.4 272.6,371.6 272.7,364.8 272.8,359.5 272.9,340.9 273.0,325.7 273.1,312.6 273.2,307.5 273.3,313.2 273.4,326.1 273.5,341.3 273.6,360.8 273.9,371.4 274.0,373.6 274.1,373.9 274.4,374.7 274.8,375.1 275.0,374.7 275.4,374.8 276.0,375.4 276.2,375.5 277.0,375.3 278.0,374.7 279.0,374.8 280.0,375.0 281.0,374.7 282.0,375.0 283.0,375.0 284.0,374.7 285.0,374.8 286.0,375.4 287.0,375.7 288.0,374.9 289.0,375.5 290.0,375.1 291.0,374.5 291.5,375.6 292.0,374.6 292.3,375.0 292.9,374.3 293.0,374.6 293.3,374.5 293.6,374.3 293.9,373.9 294.0,373.5 294.1,372.5 294.2,369.9 294.3,368.4 294.4,366.4 294.5,366.1 294.6,366.4 294.7,368.3 294.8,369.4 294.9,371.9 295.0,373.0 295.1,374.0 295.4,374.0 295.7,373.8 295.8,374.5 296.0,373.8 296.1,374.1 296.4,374.1 296.6,372.6 296.7,370.3 296.8,367.5 296.9,366.7 297.0,365.3 297.1,367.1 297.2,368.3 297.3,370.3 297.4,372.8 297.5,373.3 297.6,374.2 297.9,374.9 298.0,374.0 298.2,374.2 298.6,375.1 299.0,374.5 299.2,375.4 300.0,375.0 301.0,375.4 302.0,374.6 303.0,375.2 303.8,375.4 304.0,375.4 304.6,374.6 305.0,374.6 305.2,375.3 305.6,375.0 305.9,374.4 306.0,373.6 306.1,374.0 306.4,372.4 306.5,369.6 306.6,367.9 306.7,365.8 306.8,365.3 306.9,365.3 307.0,367.1 307.1,370.0 307.2,372.7 307.4,373.3 307.7,374.5 308.0,374.8 308.4,374.8 308.8,374.6 309.0,374.5 309.4,375.1 309.8,374.0 310.0,373.7 310.1,374.4 310.4,372.8 310.5,371.9 310.6,371.4 310.7,368.4 310.8,365.3 310.9,363.7 311.0,362.9 311.1,363.9 311.2,365.5 311.3,368.6 311.4,371.2 311.6,373.7 311.9,373.7 312.0,374.2 312.2,373.7 312.3,374.1 312.6,374.1 312.9,372.6 313.0,372.1 313.1,370.5 313.2,368.0 313.3,364.5 313.4,362.4 313.5,361.6 313.6,362.4 313.7,365.1 313.8,367.5 313.9,371.5 314.0,371.8 314.1,373.6 314.4,373.8 314.7,374.4 315.0,374.7 315.1,374.4 315.7,375.1 316.0,375.0 316.2,374.9 316.5,375.1 317.0,374.5 317.6,374.4 318.0,374.8 318.3,374.2 318.6,371.7 318.8,363.2 318.9,347.5 319.0,334.3 319.1,323.1 319.2,319.3 319.3,323.4 319.4,334.2 319.5,346.7 319.6,362.6 319.9,372.3 320.0,373.1 320.1,373.4 320.4,374.4 320.8,374.1 321.0,374.6 321.4,374.5 322.0,375.2 322.1,374.5 322.2,374.9 322.9,375.3 323.0,375.0 323.5,374.5 323.9,374.0 324.0,374.8 324.2,374.3 324.4,372.5 324.6,365.4 324.8,354.2 324.9,345.9 325.0,338.3 325.1,335.4 325.2,337.7 325.3,345.7 325.4,354.9 325.6,366.2 325.8,372.6 326.0,373.5 326.3,373.9 326.7,374.5 327.0,375.2 327.3,374.7 328.0,374.5 328.1,375.0 329.0,374.7 330.0,375.0 331.0,375.4 332.0,375.1 332.5,375.1 333.0,375.0 333.3,375.5 333.9,375.3 334.0,374.8 334.3,374.1 334.6,374.5 334.9,373.1 335.0,371.7 335.1,371.1 335.2,368.3 335.3,366.3 335.4,363.8 335.5,363.3 335.6,363.8 335.7,366.1 335.8,368.4 335.9,371.8 336.0,372.1 336.1,373.3 336.4,374.6 336.7,374.9 337.0,375.1 337.1,375.0 337.7,375.3 338.0,375.1 338.5,375.2 339.0,375.3 340.0,374.9 340.3,374.5 341.0,375.5 341.1,375.5 341.7,374.6 342.0,374.6 342.1,374.1 342.4,374.8 342.6,373.2 342.9,371.9 343.0,368.8 343.1,367.7 343.2,365.8 343.3,365.2 343.4,365.6 343.5,367.4 343.6,369.8 343.8,371.4 343.9,373.3 344.0,373.3 344.2,374.1 344.5,373.7 344.6,374.4 344.9,374.3 345.0,374.4 345.3,374.2 345.5,372.6 345.6,372.2 345.8,369.3 345.9,363.7 346.0,359.3 346.1,355.1 346.2,354.4 346.3,355.4 346.4,359.1 346.5,363.9 346.6,369.9 346.9,373.2 347.0,374.2 347.1,373.6 347.4,373.9 347.8,374.0 348.0,374.8 348.4,375.1 349.0,374.5 349.2,375.0 349.6,374.6 350.0,375.0 350.4,375.4 351.0,375.1 351.4,374.2 351.7,373.4 351.9,372.3 352.0,371.9 352.1,367.4 352.3,359.3 352.4,352.6 352.5,347.6 352.6,344.7 352.7,347.0 352.8,352.4 352.9,359.4 353.0,364.9 353.1,367.6 353.2,372.6 353.5,374.3 353.7,374.2 353.8,374.8 354.0,374.2 354.2,374.5 354.5,374.4 354.8,374.0 355.0,374.8 355.1,374.7 355.5,374.8 355.6,373.6 355.8,374.3 356.0,373.5 356.1,373.3 356.2,368.7 356.4,362.9 356.5,358.7 356.6,354.6 356.7,352.4 356.8,353.8 356.9,358.9 357.0,363.4 357.1,369.0 357.4,372.8 357.6,373.5 357.9,374.1 358.0,375.0 358.3,374.1 358.6,375.2 358.9,375.1 359.0,374.6 359.4,375.0 359.7,374.7 360.0,374.8 360.4,374.4 360.7,373.8 360.9,373.2 361.0,372.4 361.1,368.1 361.3,360.9 361.4,354.5 361.5,349.4 361.6,347.7 361.7,350.3 361.8,354.5 361.9,360.6 362.0,365.7 362.1,368.9 362.2,372.5 362.5,373.7 362.8,374.7 363.0,374.1 363.2,375.1 363.8,375.2 364.0,374.4 364.6,375.3 365.0,374.7 366.0,374.5 366.4,375.3 367.0,375.5 367.2,374.8 367.8,374.5 368.0,374.6 368.2,374.8 368.5,374.6 368.8,372.6 368.9,366.2 369.0,363.5 369.1,356.6 369.2,347.5 369.3,340.8 369.4,337.9 369.5,341.5 369.6,348.2 369.7,355.9 369.9,366.7 370.0,372.1 370.1,372.2 370.3,373.8 370.6,374.2 371.0,375.1 371.6,374.9 372.0,375.4 372.4,374.9 373.0,375.4 374.0,375.7 375.0,375.2 376.0,374.8 377.0,375.7 378.0,375.8 379.0,375.1 380.0,375.7 381.0,375.8 382.0,375.8 383.0,375.7 384.0,375.1 385.0,374.9 385.9,374.7 386.0,374.7 386.7,374.7 387.0,374.4 387.3,374.1 387.7,374.2 388.0,373.6 388.2,373.1 388.4,368.2 388.6,361.4 388.7,355.0 388.8,349.5 388.9,348.1 389.0,349.9 389.1,355.3 389.2,361.1 389.4,368.0 389.6,372.4 389.8,373.9 390.0,374.1 390.1,374.1 390.5,375.1 391.0,374.7 391.1,374.9 391.9,374.8 392.0,375.2 393.0,374.6 393.5,374.8 394.0,374.7 394.3,375.0 394.9,374.8 395.0,375.1 395.3,374.7 395.6,373.6 395.9,373.8 396.0,372.7 396.1,372.2 396.1,370.5 396.2,368.8 396.3,366.0 396.4,364.6 396.5,364.0 396.6,364.8 396.7,366.2 396.8,368.6 396.9,371.1 397.0,371.5 397.1,372.7 397.1,372.6 397.4,373.6 397.6,372.7 397.7,372.6 397.9,370.7 398.0,368.2 398.1,366.6 398.2,363.8 398.3,363.6 398.4,364.6 398.5,366.8 398.6,368.7 398.7,370.1 398.8,371.7 398.9,373.7 399.0,373.9 399.2,374.3 399.5,374.4 399.9,374.6 400.0,374.2 400.1,373.7 400.5,373.7 400.6,373.9 400.8,373.6 401.0,373.4 401.1,372.2 401.2,368.1 401.3,366.6 401.4,361.1 401.5,355.6 401.6,350.9 401.7,349.5 401.8,350.8 401.9,355.8 402.0,361.1 402.1,367.6 402.4,371.7 402.4,372.4 402.6,372.6 402.7,373.4 402.9,373.0 402.9,372.1 403.0,372.0 403.1,369.1 403.3,364.6 403.4,361.7 403.5,359.0 403.6,357.0 403.7,358.3 403.8,361.6 403.9,364.7 404.0,368.0 404.1,369.6 404.2,372.3 404.4,372.8 404.5,373.2 404.7,373.1 404.8,373.3 405.0,373.7 405.1,373.3 405.2,373.0 405.4,372.3 405.6,370.2 405.7,365.7 405.8,361.9 405.9,358.8 406.0,357.3 406.1,358.5 406.2,361.0 406.3,365.6 406.4,367.9 406.4,369.0 406.6,372.0 406.6,371.8 406.8,373.2 406.9,372.8 407.0,373.4 407.1,373.1 407.2,372.5 407.4,372.5 407.6,370.3 407.6,368.4 407.7,365.8 407.8,362.9 407.9,360.6 408.0,359.4 408.1,360.4 408.2,363.4 408.3,366.0 408.4,370.1 408.6,372.9 408.9,374.3 409.0,373.8 409.2,373.7 409.6,374.1 409.8,374.6 410.0,375.2 410.2,374.8 410.6,374.6 411.0,374.2 411.2,374.3 411.6,374.7 411.9,374.4 412.0,373.4 412.1,373.0 412.2,372.7 412.4,370.3 412.5,365.2 412.6,361.5 412.7,358.7 412.8,357.7 412.9,358.5 413.0,361.2 413.1,366.0 413.2,369.8 413.4,372.7 413.6,373.1 413.7,374.0 414.0,373.9 414.3,373.9 414.4,373.0 414.6,372.9 414.8,369.3 414.9,363.7 415.0,359.8 415.1,355.7 415.2,355.3 415.3,355.7 415.4,360.1 415.5,364.0 415.6,369.1 415.8,372.7 415.9,372.3 416.0,374.0 416.1,373.6 416.4,374.1 416.8,374.1 417.0,374.2 417.4,375.3 418.0,375.4 418.2,375.0 419.0,375.5 420.0,374.9 421.0,375.1 422.0,375.0 422.8,374.9 423.0,375.1 423.6,374.9 424.0,375.1 424.2,375.1 424.6,374.4 424.9,374.1 425.0,374.1 425.1,373.0 425.4,370.7 425.5,367.3 425.6,365.4 425.7,362.5 425.8,361.5 425.9,363.2 426.0,365.3 426.1,367.8 426.2,370.8 426.4,373.9 426.7,373.9 427.0,374.1 427.4,375.1 428.0,374.6 428.8,375.6 429.0,375.6 430.0,375.1 431.0,375.5 432.0,374.8 433.0,375.4 434.0,375.0 435.0,374.8 436.0,375.4 436.8,375.5 437.0,375.0 437.4,375.2 437.8,374.5 438.0,374.3 438.1,374.7 438.4,374.1 438.5,372.3 438.6,372.0 438.7,370.2 438.8,368.0 438.9,366.1 439.0,365.7 439.1,366.9 439.2,367.5 439.3,369.3 439.4,371.7 439.6,373.7 439.9,374.7 440.0,374.8 440.2,374.3 440.3,373.8 440.6,373.7 440.9,374.1 441.0,373.0 441.1,372.3 441.2,370.3 441.3,367.9 441.4,366.6 441.5,365.6 441.6,365.7 441.7,368.4 441.8,369.7 441.9,371.6 442.0,373.1 442.1,373.2 442.4,373.8 442.7,374.6 442.8,374.5 443.0,374.7 443.1,374.6 443.4,373.5 443.6,372.0 443.7,369.3 443.8,368.1 443.9,366.6 444.0,365.4 444.1,366.6 444.2,368.4 444.3,370.0 444.4,372.2 444.5,373.0 444.6,373.9 444.9,374.2 445.0,374.5 445.2,375.0 445.6,374.5 446.0,374.4 446.2,375.4 446.7,374.6 447.0,374.6 447.5,374.7 448.0,375.4 448.1,374.9 448.5,375.0 448.8,374.6 449.0,374.2 449.1,373.1 449.2,371.4 449.4,369.1 449.5,366.9 449.6,365.0 449.7,363.8 449.8,364.6 449.9,367.1 450.0,369.3 450.1,371.6 450.4,373.9 450.6,373.8 450.9,374.9 451.0,374.4 451.3,374.4 451.5,375.0 451.9,375.0 452.0,375.0 452.3,374.6 452.7,375.3 452.9,375.1 453.0,374.3 453.3,375.4 453.6,374.4 453.9,373.8 454.0,373.8 454.1,373.4 454.2,371.2 454.3,370.1 454.4,369.2 454.5,369.3 454.6,368.9 454.7,370.0 454.8,371.1 454.9,373.1 455.0,373.1 455.1,374.2 455.4,374.6 455.7,374.5 456.0,374.7 456.1,375.0 456.5,375.2 456.7,375.4 457.0,374.5 457.3,375.4 457.5,374.8 457.9,374.3 458.0,374.5 458.3,374.2 458.6,374.6 458.9,372.8 459.0,371.6 459.1,371.3 459.2,367.5 459.3,365.5 459.4,362.4 459.5,362.5 459.6,363.1 459.7,365.5 459.8,367.8 459.9,370.7 460.0,372.4 460.1,373.3 460.4,374.3 460.7,374.8 461.0,374.3 461.1,374.5 461.7,374.7 462.0,374.6 462.5,375.5 463.0,375.3 464.0,374.9 465.0,375.5 466.0,375.5 467.0,375.0 468.0,375.5 469.0,375.5 470.0,375.5 471.0,375.6 472.0,374.6 473.0,375.1 474.0,375.1 475.0,375.1 476.0,375.8 477.0,375.3 478.0,375.6 479.0,375.0 479.8,374.9 480.0,374.7 480.4,375.0 480.8,375.0 481.0,374.7 481.1,373.7 481.4,373.4 481.6,371.0 481.7,368.1 481.8,365.5 481.9,363.5 482.0,362.6 482.1,363.4 482.2,366.4 482.3,367.9 482.4,371.9 482.6,374.0 482.9,374.6 483.0,374.0 483.2,375.0 483.6,375.3 484.0,375.2 484.2,375.4 485.0,374.7 485.1,375.3 485.9,374.8 486.0,374.3 486.5,374.7 486.9,373.9 487.0,374.7 487.2,374.3 487.4,372.8 487.6,368.9 487.8,361.9 487.9,355.3 488.0,350.9 488.1,349.3 488.2,350.3 488.3,355.2 488.4,361.9 488.6,368.4 488.8,373.3 489.0,374.1 489.3,374.9 489.7,375.2 490.0,375.1 490.3,375.3 491.0,375.5 491.1,375.1 492.0,374.9 493.0,375.4 494.0,375.7 494.8,375.5 495.0,375.2 495.4,374.8 495.8,375.3 496.0,374.5 496.1,374.5 496.4,374.9 496.6,373.6 496.7,373.1 496.8,372.2 496.9,371.0 497.0,371.5 497.1,370.9 497.2,371.9 497.3,373.0 497.4,373.3 497.6,374.5 497.9,374.9 498.0,375.3 498.2,375.4 498.3,374.5 498.6,374.6 499.0,374.8 499.1,374.6 499.2,374.4 499.7,375.0 500.0,375.0 500.1,374.1 500.4,375.0 500.6,374.1 500.9,372.6 501.0,369.9 501.1,368.6 501.2,366.9 501.3,365.9 501.4,366.6 501.5,368.6 501.6,370.2 501.8,371.9 501.9,373.4 502.0,374.5 502.2,374.7 502.5,374.7 502.9,375.0 503.0,374.9 503.5,374.5 504.0,375.3 504.3,374.6 505.0,374.8 506.0,375.1 507.0,375.1 508.0,375.4 509.0,375.5 510.0,375.1 510.2,375.1 511.0,375.1 511.6,375.1 512.0,374.4 512.3,374.4 512.5,374.5 512.8,372.5 512.9,370.6 513.0,369.3 513.1,367.6 513.2,367.5 513.3,367.5 513.4,368.6 513.5,370.6 513.6,372.6 513.9,374.1 514.0,374.9 514.1,374.9 514.3,374.6 514.4,374.5 514.8,374.3 514.9,374.3 515.0,375.2 515.3,374.7 515.4,375.0 515.6,375.3 515.9,374.5 516.0,374.4 516.0,373.6 516.2,372.1 516.3,371.8 516.4,370.6 516.5,370.0 516.6,371.1 516.7,372.0 516.8,372.1 517.0,373.9 517.0,374.2 517.1,374.3 517.3,374.5 517.4,375.2 517.7,374.2 517.9,374.5 518.0,374.8 518.1,374.4 518.3,375.2 518.6,375.2 518.7,374.5 518.9,374.3 519.0,374.4 519.0,373.7 519.2,372.3 519.3,371.0 519.4,370.4 519.5,369.8 519.6,370.5 519.7,370.6 519.8,372.7 520.0,373.6 520.0,374.4 520.1,374.4 520.4,375.0 520.7,374.6 520.8,375.3 521.0,374.3 521.1,374.4 521.4,375.0 521.5,373.4 521.7,372.3 521.8,372.2 521.9,371.6 522.0,371.1 522.1,370.9 522.2,371.6 522.3,373.0 522.5,374.3 522.5,373.6 522.6,374.4 522.9,374.2 523.0,375.4 523.2,374.3 523.3,375.3 523.6,375.1 523.9,374.5 524.0,374.8 524.2,375.2 524.3,374.8 524.6,374.2 524.9,374.8 525.0,373.8 525.0,373.2 525.2,371.9 525.3,371.5 525.4,370.8 525.5,370.2 525.6,371.1 525.7,371.7 525.8,372.6 526.0,373.5 526.0,374.5 526.1,374.8 526.4,374.6 526.7,374.4 526.8,375.0 527.0,374.9 527.1,374.2 527.4,374.7 527.5,373.0 527.7,372.3 527.8,371.0 527.9,370.7 528.0,370.1 528.1,370.7 528.2,371.5 528.3,372.1 528.5,373.6 528.5,373.4 528.6,374.4 528.8,374.3 528.9,374.9 529.0,374.3 529.2,374.3 529.4,375.2 529.6,374.6 529.8,374.3 530.0,374.2 530.1,375.0 530.2,375.2 530.4,374.4 530.5,374.3 530.5,374.3 530.7,372.3 530.8,372.0 530.9,371.6 531.0,371.3 531.1,370.8 531.2,371.8 531.3,372.4 531.5,373.9 531.6,374.3 531.9,375.2 532.0,375.0 532.2,374.2 532.3,374.9 532.6,374.9 532.9,374.8 533.0,374.0 533.0,374.3 533.2,372.7 533.3,371.7 533.4,370.6 533.5,370.4 533.6,371.2 533.7,372.1 533.8,372.9 534.0,374.4 534.0,373.7 534.1,374.5 534.4,374.7 534.7,375.4 535.0,375.1 535.1,374.6 535.7,375.3 536.0,374.8 536.5,374.7"/>
<polyline stroke="#4848ff" stroke-width="0.95" points="32.0,374.8 33.0,375.3 34.0,374.8 35.0,375.5 36.0,375.3 37.0,375.1 38.0,375.3 39.0,375.3 40.0,374.7 41.0,375.2 42.0,375.3 43.0,375.2 44.0,375.7 45.0,375.5 46.0,375.1 47.0,374.9 48.0,374.8 49.0,375.6 50.0,375.4 51.0,375.3 52.0,375.1 53.0,375.2 54.0,374.9 55.0,375.2 56.0,374.8 57.0,375.3 58.0,375.4 59.0,375.4 60.0,374.9 61.0,374.7 62.0,375.0 63.0,375.4 64.0,375.2 65.0,375.5 66.0,375.1 67.0,375.1 68.0,375.7 69.0,374.8 70.0,374.8 71.0,375.3 72.0,375.4 73.0,375.1 74.0,375.3 75.0,375.1 76.0,375.4 77.0,375.7 78.0,375.6 79.0,375.4 80.0,375.2 81.0,375.7 82.0,375.1 83.0,375.3 84.0,375.5 84.7,375.3 85.0,374.9 85.5,375.1 86.0,374.8 86.1,375.1 86.5,374.5 86.8,373.9 87.0,373.6 87.0,372.5 87.1,371.6 87.2,367.9 87.4,359.5 87.5,351.6 87.6,345.9 87.7,344.6 87.8,346.8 87.9,351.8 88.0,358.5 88.2,367.5 88.3,372.8 88.5,372.9 88.6,373.4 88.9,373.9 89.0,373.3 89.2,373.4 89.3,372.9 89.5,372.7 89.7,369.8 89.8,365.4 89.9,362.4 90.0,359.4 90.1,358.3 90.2,359.4 90.3,362.5 90.4,365.8 90.5,370.6 90.7,372.5 90.8,372.7 91.0,373.5 91.3,374.1 91.7,374.9 92.0,374.4 92.3,374.8 93.0,375.4 93.1,375.4 94.0,375.1 95.0,375.6 96.0,375.4 97.0,374.9 98.0,374.7 99.0,374.8 100.0,375.5 101.0,375.1 102.0,375.6 103.0,375.8 104.0,375.7 105.0,375.2 106.0,374.6 107.0,374.9 108.0,374.8 108.8,375.2 109.0,375.3 109.6,375.4 110.0,375.1 110.2,375.3 110.6,374.6 110.9,374.0 111.0,374.1 111.2,372.7 111.3,370.3 111.5,365.5 111.6,361.7 111.7,357.5 111.8,356.5 111.9,358.6 112.0,360.8 112.1,365.0 112.2,370.0 112.5,372.8 112.6,374.0 112.7,374.3 113.0,373.9 113.4,373.9 113.5,374.8 114.0,374.1 114.3,373.6 114.4,373.4 114.7,372.8 114.8,373.2 114.9,372.5 115.0,372.5 115.0,372.5 115.2,369.7 115.3,366.2 115.4,361.7 115.5,359.3 115.6,356.7 115.7,354.2 115.8,348.0 115.8,344.1 115.9,337.6 116.0,317.3 116.0,303.0 116.2,247.9 116.2,228.8 116.3,210.1 116.4,180.9 116.5,170.5 116.6,181.1 116.7,209.9 116.8,249.9 116.9,288.8 117.0,307.1 117.0,322.2 117.2,352.9 117.2,358.9 117.3,366.4 117.4,370.2 117.6,373.0 117.7,371.7 117.8,370.6 117.8,367.8 118.0,354.6 118.0,346.5 118.1,335.8 118.2,309.0 118.3,276.7 118.4,251.1 118.5,240.8 118.6,250.8 118.7,277.4 118.8,308.5 119.0,346.9 119.0,355.4 119.2,368.3 119.4,373.1 119.5,374.1 119.7,374.8 120.0,373.9 120.1,374.5 120.7,375.4 121.0,375.3 121.5,375.6 122.0,375.1 123.0,375.7 124.0,374.7 125.0,375.2 126.0,375.6 127.0,375.1 128.0,375.1 129.0,375.1 130.0,375.1 131.0,375.6 132.0,375.8 133.0,374.9 134.0,375.0 135.0,375.6 136.0,375.5 137.0,375.5 137.6,375.4 138.0,375.6 138.4,375.5 139.0,375.2 139.4,374.7 139.7,374.3 139.9,375.0 140.0,374.9 140.2,374.4 140.3,372.5 140.4,372.2 140.5,371.7 140.6,370.6 140.7,370.6 140.8,371.5 140.9,372.4 141.0,373.7 141.1,374.2 141.1,374.5 141.2,374.7 141.5,375.3 141.8,375.3 142.0,374.5 142.1,375.0 142.2,374.4 142.2,373.7 142.4,373.1 142.5,371.9 142.6,371.5 142.7,371.8 142.8,371.1 142.9,372.3 143.0,373.0 143.2,373.8 143.3,374.1 143.6,374.9 143.9,374.8 144.0,374.5 144.3,374.9 144.9,375.3 145.0,374.6 145.7,375.5 146.0,374.7 147.0,375.1 148.0,375.0 149.0,375.5 150.0,375.5 150.1,375.3 150.9,374.7 151.0,374.7 151.5,374.8 151.9,371.6 152.0,370.0 152.2,364.3 152.4,351.6 152.7,339.4 152.8,331.2 152.9,325.8 153.0,323.4 153.1,321.5 153.2,322.4 153.3,326.0 153.4,330.4 153.6,339.6 153.8,352.2 154.0,363.4 154.1,367.3 154.3,371.3 154.7,374.7 154.9,374.9 155.0,375.0 155.3,374.8 155.5,374.3 155.9,374.4 156.0,374.2 156.1,373.9 156.2,373.7 156.4,373.2 156.7,371.0 156.8,366.3 156.9,363.3 157.0,360.5 157.1,359.7 157.2,360.8 157.3,363.0 157.4,366.8 157.6,370.4 157.8,373.5 158.0,373.7 158.3,374.7 158.7,375.3 159.0,374.4 159.3,374.8 160.0,375.6 160.1,374.9 161.0,374.9 162.0,374.7 163.0,375.6 164.0,374.9 165.0,375.6 165.7,375.1 166.0,374.6 166.5,375.5 167.0,375.2 167.1,374.9 167.5,374.5 167.8,374.1 168.0,372.5 168.1,370.3 168.2,356.2 168.4,332.3 168.5,311.7 168.6,295.8 168.7,289.2 168.8,295.2 168.9,311.3 169.0,332.0 169.2,356.4 169.3,370.5 169.4,372.0 169.6,373.5 169.9,374.4 170.0,374.0 170.3,373.5 170.4,374.2 170.7,373.0 170.9,372.1 170.9,370.9 171.0,368.2 171.2,356.6 171.2,350.7 171.3,333.6 171.4,314.2 171.5,298.9 171.6,292.2 171.7,298.1 171.8,314.3 171.9,333.8 172.0,350.7 172.1,356.1 172.2,368.4 172.2,369.7 172.5,373.2 172.8,371.5 172.8,370.5 172.9,366.7 173.0,364.6 173.1,358.3 173.2,352.3 173.3,346.3 173.4,344.7 173.5,346.3 173.6,352.1 173.7,359.1 173.8,364.6 173.8,367.0 173.9,369.5 174.0,371.4 174.1,372.1 174.3,373.8 174.6,374.3 174.7,374.5 175.0,374.3 175.3,374.7 175.6,374.6 175.7,374.5 176.0,374.2 176.2,372.6 176.4,369.5 176.4,367.3 176.6,358.7 176.7,353.0 176.8,346.8 176.9,344.6 177.0,347.0 177.1,352.8 177.2,359.6 177.3,367.0 177.5,372.0 177.6,372.9 177.8,374.3 178.0,374.5 178.1,374.2 178.3,374.7 178.5,374.4 178.9,374.7 179.0,374.8 179.1,374.1 179.3,373.6 179.6,372.5 179.8,361.0 179.9,355.5 180.0,339.5 180.1,329.3 180.2,290.9 180.3,265.6 180.4,245.3 180.5,237.8 180.6,245.1 180.7,265.6 180.8,291.1 180.9,329.5 181.0,338.8 181.2,360.2 181.4,372.0 181.7,373.4 181.9,370.7 182.0,369.8 182.1,365.5 182.2,362.0 182.3,344.4 182.4,331.4 182.5,320.5 182.6,315.8 182.7,320.4 182.8,331.1 182.9,345.1 183.0,356.5 183.1,362.1 183.2,371.6 183.5,373.4 183.8,374.8 184.0,374.1 184.2,374.1 184.8,375.1 185.0,374.4 185.6,375.2 186.0,374.6 187.0,374.5 188.0,375.3 188.1,375.2 188.9,375.1 189.0,375.2 189.5,375.0 189.9,374.0 190.0,374.2 190.2,374.1 190.4,372.4 190.7,363.5 190.8,348.7 190.9,337.1 191.0,327.3 191.1,322.7 191.2,326.5 191.3,336.1 191.4,349.2 191.6,363.0 191.8,372.0 192.0,374.0 192.3,374.6 192.7,375.2 193.0,375.0 193.3,374.5 194.0,375.0 194.1,374.7 195.0,375.0 196.0,375.4 197.0,375.4 198.0,375.4 199.0,375.6 200.0,375.7 200.5,374.7 201.0,375.2 201.3,375.1 201.9,374.2 202.0,375.3 202.3,374.3 202.6,374.3 202.8,372.6 203.0,370.7 203.1,369.2 203.2,364.8 203.3,359.3 203.4,355.8 203.5,355.2 203.6,356.4 203.7,359.7 203.8,364.8 203.9,369.8 204.0,370.8 204.2,373.2 204.4,374.5 204.7,374.8 204.8,374.2 205.0,374.9 205.1,374.2 205.6,374.6 205.7,375.3 206.0,375.0 206.2,374.5 206.5,374.6 206.6,374.4 206.9,374.4 207.0,374.0 207.2,373.5 207.3,371.6 207.5,369.2 207.6,366.8 207.7,364.3 207.8,363.7 207.9,365.0 208.0,366.7 208.1,368.9 208.2,371.8 208.4,373.1 208.7,374.3 208.8,374.5 209.0,374.3 209.4,374.4 209.6,374.5 210.0,374.6 210.2,374.1 210.6,374.5 210.7,373.5 210.8,374.3 210.9,373.7 211.0,373.1 211.2,372.1 211.3,367.4 211.5,359.6 211.6,354.3 211.7,348.3 211.8,346.0 211.9,348.7 212.0,354.1 212.1,359.5 212.2,367.1 212.4,372.0 212.5,372.1 212.7,372.2 212.8,371.2 212.9,368.8 213.0,361.7 213.1,356.7 213.2,318.5 213.4,271.0 213.5,238.8 213.6,213.9 213.7,205.1 213.8,214.1 213.9,238.6 214.0,271.1 214.2,318.1 214.3,350.0 214.3,357.0 214.6,372.3 214.7,373.0 214.8,373.5 214.9,373.6 215.0,374.0 215.2,373.2 215.3,373.1 215.4,371.9 215.6,370.0 215.7,368.2 215.8,366.9 215.9,366.8 216.0,366.6 216.1,368.5 216.2,370.7 216.3,372.6 216.6,374.2 216.7,374.6 216.8,374.0 217.0,374.7 217.1,374.5 217.5,374.7 218.0,374.5 218.1,375.3 218.9,375.6 219.0,375.6 220.0,375.1 221.0,375.7 222.0,375.6 223.0,375.3 224.0,375.4 224.5,375.4 225.0,374.4 225.3,375.1 225.9,374.9 226.0,374.5 226.3,374.8 226.6,372.6 226.8,358.4 227.0,334.6 227.1,322.4 227.2,279.0 227.3,248.4 227.4,225.7 227.5,217.7 227.6,226.6 227.7,248.5 227.8,279.6 227.9,322.6 228.0,335.1 228.2,358.5 228.4,372.7 228.7,374.3 229.0,374.9 229.1,374.5 229.2,374.3 229.7,375.2 230.0,374.1 230.5,374.2 230.6,374.1 231.0,374.4 231.3,374.2 231.6,371.1 231.8,360.8 231.9,342.7 232.0,326.5 232.1,315.0 232.2,309.4 232.3,314.1 232.4,327.1 232.5,342.2 232.7,360.6 232.8,371.5 233.0,372.8 233.1,374.0 233.4,373.9 233.8,375.1 234.0,374.6 234.4,374.3 234.6,374.7 235.0,374.5 235.2,374.0 235.6,374.6 235.9,373.8 236.0,373.9 236.2,371.8 236.3,361.5 236.5,343.8 236.6,328.4 236.7,316.7 236.8,312.0 236.9,316.8 237.0,328.9 237.1,343.6 237.2,361.3 237.4,371.7 237.7,374.0 238.0,374.0 238.4,374.4 239.0,374.4 239.8,375.1 240.0,375.1 240.7,374.6 241.0,374.8 241.5,375.3 242.0,374.3 242.1,374.7 242.5,374.4 242.8,373.9 243.0,372.7 243.1,373.0 243.2,366.8 243.4,357.3 243.5,349.0 243.6,342.6 243.7,340.6 243.8,342.8 243.9,349.6 244.0,357.4 244.2,366.1 244.3,372.1 244.5,373.1 244.6,373.8 244.9,374.0 245.0,374.4 245.1,373.5 245.3,374.0 245.5,374.2 245.7,373.3 245.8,373.0 245.9,373.1 246.0,371.8 246.1,370.6 246.2,361.2 246.4,343.3 246.5,328.5 246.6,316.7 246.7,311.9 246.8,316.2 246.9,328.6 247.0,343.4 247.1,356.2 247.2,361.1 247.3,371.3 247.5,373.4 247.6,373.8 247.8,373.5 247.9,373.2 248.0,373.3 248.1,373.5 248.2,370.7 248.3,370.2 248.4,367.8 248.5,365.4 248.6,364.1 248.7,362.9 248.8,363.6 248.9,366.1 249.0,368.5 249.2,371.4 249.3,372.8 249.6,373.6 249.7,374.2 249.9,373.8 250.0,374.0 250.3,374.4 250.9,375.2 251.0,375.0 251.1,375.1 251.7,374.9 252.0,374.0 252.1,374.7 252.4,374.2 252.7,373.7 252.8,370.4 253.0,366.8 253.1,363.8 253.2,361.8 253.3,360.8 253.4,361.6 253.5,364.6 253.6,367.7 253.8,371.5 253.9,372.8 254.0,373.2 254.2,374.0 254.5,374.8 254.9,375.1 255.0,375.2 255.5,374.5 256.0,375.1 256.3,374.5 257.0,375.3 258.0,375.4 259.0,374.8 259.1,374.9 259.9,374.4 260.0,375.3 260.5,374.5 260.9,374.1 261.0,374.1 261.2,373.4 261.4,370.7 261.6,353.8 261.8,324.3 261.9,300.1 262.0,280.5 262.1,273.4 262.2,280.0 262.3,299.9 262.4,324.4 262.6,353.0 262.8,369.9 262.8,371.0 263.0,373.5 263.3,374.5 263.4,374.3 263.7,374.2 263.8,374.4 264.0,373.5 264.1,374.0 264.3,373.6 264.4,372.6 264.6,368.9 264.7,364.2 264.8,360.2 264.9,355.7 265.0,354.6 265.1,356.5 265.2,359.8 265.3,364.7 265.4,369.5 265.6,372.7 265.9,373.7 266.0,374.0 266.2,374.6 266.6,374.9 267.0,374.6 267.2,374.6 267.3,374.9 268.0,374.4 268.1,374.7 268.7,374.4 269.0,373.8 269.1,374.4 269.4,372.2 269.6,362.9 269.9,338.2 270.0,307.9 270.1,286.6 270.2,271.2 270.3,264.2 270.4,271.0 270.5,286.7 270.6,307.7 270.8,338.6 270.8,345.7 270.9,362.5 271.0,366.9 271.2,373.0 271.4,373.3 271.5,373.8 271.8,374.4 271.9,374.0 272.0,373.2 272.1,373.3 272.4,371.9 272.5,365.5 272.6,362.2 272.7,347.4 272.8,333.9 272.9,324.0 273.0,319.4 273.1,323.5 273.2,334.4 273.3,347.4 273.4,362.5 273.6,371.4 273.9,374.1 274.0,374.4 274.2,373.8 274.6,374.8 275.0,374.8 275.2,375.4 276.0,375.2 277.0,375.2 278.0,374.7 279.0,375.2 280.0,374.7 281.0,374.8 282.0,375.2 283.0,375.6 284.0,375.8 285.0,375.6 286.0,375.2 287.0,375.1 288.0,375.4 289.0,375.0 290.0,374.6 291.0,375.4 291.3,375.6 292.0,375.4 292.1,375.1 292.7,375.1 293.0,374.3 293.1,374.2 293.4,374.7 293.6,373.6 293.8,372.1 293.9,371.9 294.0,369.1 294.1,367.0 294.2,364.1 294.3,363.6 294.4,364.6 294.5,366.9 294.6,369.3 294.8,371.2 294.9,373.2 295.0,373.5 295.2,374.5 295.5,374.4 295.6,373.9 295.9,374.2 296.0,373.6 296.1,374.0 296.4,371.8 296.5,369.4 296.6,367.6 296.7,365.5 296.8,364.3 296.9,365.3 297.0,366.7 297.1,369.3 297.2,372.6 297.3,372.9 297.4,374.3 297.7,373.9 298.0,374.8 298.4,375.1 299.0,374.9 299.8,375.5 300.0,374.6 301.0,375.6 302.0,375.7 303.0,374.8 303.6,374.6 304.0,375.5 304.4,375.1 305.0,375.5 305.4,374.7 305.7,374.1 305.9,373.5 306.0,373.7 306.1,371.9 306.3,370.0 306.4,367.7 306.5,365.7 306.6,365.4 306.7,366.0 306.8,367.2 306.9,369.6 307.0,371.2 307.1,371.5 307.2,373.3 307.5,374.0 307.8,374.0 308.0,375.1 308.2,374.7 308.6,374.4 308.8,374.2 309.0,374.8 309.2,374.5 309.6,374.8 309.9,374.2 310.0,373.3 310.1,373.8 310.3,372.3 310.4,370.9 310.5,368.0 310.6,365.0 310.7,362.2 310.8,361.5 310.9,362.4 311.0,364.9 311.1,367.6 311.2,371.0 311.4,372.5 311.7,373.6 312.0,373.5 312.1,373.8 312.4,374.4 312.6,372.7 312.9,370.7 313.0,368.0 313.1,365.5 313.2,363.1 313.3,363.2 313.4,364.0 313.5,366.1 313.6,368.4 313.8,371.4 313.8,372.2 313.9,373.0 314.0,373.0 314.2,374.6 314.5,374.9 314.9,374.4 315.0,374.7 315.5,374.3 316.0,375.3 316.3,375.4 316.8,375.4 317.0,374.3 317.4,375.2 317.8,373.9 318.0,374.5 318.1,374.5 318.4,372.1 318.6,366.8 318.7,357.3 318.8,349.3 318.9,342.7 319.0,340.0 319.1,342.4 319.2,348.9 319.3,357.2 319.4,367.0 319.6,372.7 319.9,374.5 320.0,373.9 320.2,374.2 320.6,374.5 321.0,374.5 321.2,375.1 321.9,374.3 322.0,375.4 322.7,374.4 323.0,374.9 323.3,374.9 323.7,374.1 324.0,373.5 324.2,373.1 324.4,367.2 324.6,357.0 324.7,348.7 324.8,342.5 324.9,340.1 325.0,342.1 325.1,349.2 325.2,357.2 325.4,366.4 325.6,372.3 325.8,373.9 326.0,374.1 326.1,374.4 326.5,374.3 327.0,374.7 327.1,375.4 327.9,375.3 328.0,375.0 329.0,374.7 330.0,375.0 331.0,375.4 332.0,375.1 332.3,375.4 333.0,375.2 333.1,375.0 333.7,375.0 334.0,374.7 334.1,374.4 334.4,374.9 334.6,373.8 334.9,371.4 335.0,367.8 335.1,365.8 335.2,363.6 335.3,363.5 335.4,364.4 335.5,366.1 335.6,367.8 335.8,371.8 335.9,373.2 336.0,373.9 336.2,374.7 336.5,374.1 336.9,375.4 337.0,375.2 337.5,374.9 338.0,375.1 338.3,374.8 339.0,375.5 340.0,375.6 340.1,375.0 340.9,375.4 341.0,374.5 341.5,374.4 341.9,375.1 342.0,374.1 342.2,374.6 342.4,374.0 342.6,371.5 342.8,369.8 342.9,367.3 343.0,365.5 343.1,365.1 343.2,365.4 343.3,367.6 343.4,369.4 343.6,372.2 343.8,373.5 343.8,373.6 344.0,373.9 344.3,373.9 344.4,374.7 344.7,374.3 344.8,374.7 345.0,374.1 345.1,374.1 345.3,373.3 345.4,372.9 345.6,370.5 345.7,365.2 345.8,362.1 345.9,358.4 346.0,357.4 346.1,359.6 346.2,361.4 346.3,366.0 346.4,370.8 346.6,373.3 346.9,374.6 347.0,373.7 347.2,374.6 347.6,374.7 348.0,374.8 348.2,374.3 349.0,374.4 349.4,375.3 350.0,374.5 350.2,375.1 350.8,374.2 351.0,374.8 351.2,373.9 351.5,374.5 351.8,373.0 351.9,368.3 352.0,367.3 352.1,361.4 352.2,356.2 352.3,351.8 352.4,349.5 352.5,351.9 352.6,355.9 352.7,362.1 352.9,369.1 353.0,372.6 353.1,372.2 353.3,373.9 353.5,374.4 353.6,373.7 354.0,373.9 354.3,374.9 354.6,374.8 354.9,374.1 355.0,374.7 355.3,374.6 355.4,373.9 355.6,374.0 355.9,373.2 356.0,370.4 356.1,370.0 356.2,365.2 356.3,361.1 356.4,357.8 356.5,356.2 356.6,357.7 356.7,360.4 356.8,364.4 356.9,370.1 357.0,370.6 357.1,372.6 357.4,374.0 357.7,374.2 358.0,375.1 358.1,374.2 358.4,374.5 358.7,375.2 359.0,374.5 359.2,375.0 359.5,374.7 359.8,375.1 360.0,374.1 360.2,374.3 360.5,373.7 360.8,373.1 360.9,369.5 361.0,367.5 361.1,363.3 361.2,358.1 361.3,353.5 361.4,351.6 361.5,353.1 361.6,357.6 361.7,362.6 361.9,369.2 362.0,372.9 362.1,372.9 362.3,373.7 362.6,374.8 363.0,374.6 363.6,375.1 364.0,375.2 364.4,375.2 365.0,374.5 366.0,374.5 366.2,375.3 367.0,374.9 367.6,374.9 368.0,374.9 368.3,373.8 368.6,372.5 368.8,368.1 368.9,359.3 369.0,353.1 369.1,347.2 369.2,345.9 369.3,347.4 369.4,352.8 369.5,359.7 369.6,368.1 369.9,372.8 370.0,373.6 370.1,373.6 370.4,374.4 370.8,374.1 371.0,374.8 371.4,374.4 372.0,375.2 372.2,375.5 373.0,374.9 374.0,375.7 375.0,375.3 376.0,375.1 377.0,375.3 378.0,375.6 379.0,375.5 380.0,375.7 381.0,375.7 382.0,374.8 383.0,375.7 384.0,375.6 385.0,374.9 385.7,375.2 386.0,374.9 386.5,374.7 387.0,374.7 387.1,375.3 387.5,374.3 387.8,373.5 388.0,373.7 388.1,372.7 388.2,369.1 388.4,363.9 388.5,359.6 388.6,356.5 388.7,354.5 388.8,356.9 388.9,360.2 389.0,364.8 389.1,370.2 389.4,373.5 389.6,374.6 389.9,374.2 390.0,374.9 390.3,374.6 390.9,375.4 391.0,374.4 391.7,375.2 392.0,375.0 393.0,375.5 393.3,374.6 394.0,375.2 394.1,374.7 394.7,375.3 395.0,374.6 395.1,374.4 395.4,374.6 395.6,373.7 395.9,371.8 395.9,371.0 396.0,368.8 396.1,366.6 396.2,364.7 396.3,363.9 396.4,363.8 396.5,366.3 396.6,369.0 396.8,371.4 396.9,372.7 396.9,372.4 397.0,373.0 397.2,373.1 397.4,372.2 397.5,372.0 397.6,370.1 397.8,366.2 397.9,363.8 398.0,361.8 398.1,360.7 398.2,362.1 398.3,364.4 398.4,367.1 398.5,369.1 398.6,370.0 398.8,373.0 399.0,373.2 399.3,374.2 399.7,374.6 399.9,374.0 400.0,373.8 400.3,373.6 400.4,374.5 400.6,373.5 400.9,372.2 401.0,369.8 401.1,368.4 401.1,366.2 401.2,361.5 401.3,355.4 401.4,350.8 401.5,349.3 401.6,351.3 401.7,355.7 401.8,361.0 401.9,367.7 402.0,368.9 402.1,372.2 402.2,372.7 402.4,373.1 402.5,373.2 402.7,372.2 402.8,372.0 402.8,371.7 402.9,369.0 403.0,367.6 403.1,365.4 403.2,361.4 403.3,358.9 403.4,357.6 403.5,358.4 403.6,361.1 403.7,364.8 403.9,369.6 404.0,372.2 404.1,372.2 404.2,372.9 404.3,372.9 404.5,373.2 404.6,373.2 404.8,373.3 404.9,372.7 405.0,373.4 405.1,372.7 405.4,369.7 405.5,365.4 405.6,361.6 405.7,358.5 405.8,357.8 405.9,359.0 406.0,362.0 406.1,365.6 406.2,368.1 406.2,369.4 406.4,372.2 406.4,372.1 406.6,372.8 406.7,372.9 406.9,373.4 407.0,372.6 407.1,371.7 407.4,369.9 407.4,368.2 407.5,365.2 407.6,360.4 407.7,357.0 407.8,355.8 407.9,357.6 408.0,360.6 408.1,364.4 408.2,370.2 408.4,373.3 408.7,373.5 408.8,374.3 409.0,374.7 409.4,374.6 409.6,374.2 410.0,374.1 410.4,374.4 410.8,374.0 411.0,375.0 411.4,374.4 411.7,374.0 411.9,373.4 412.0,372.3 412.1,369.6 412.3,365.8 412.4,361.5 412.5,358.8 412.6,358.2 412.7,359.4 412.8,361.7 412.9,365.3 413.0,368.7 413.1,369.7 413.2,372.1 413.4,372.9 413.5,373.4 413.8,373.6 414.0,374.1 414.1,373.1 414.2,372.9 414.4,372.2 414.6,370.1 414.7,366.0 414.8,363.4 414.9,360.5 415.0,360.3 415.1,360.5 415.2,363.3 415.3,366.5 415.4,370.8 415.6,372.3 415.6,372.5 415.9,374.3 416.0,373.8 416.2,374.5 416.6,374.9 417.0,374.9 417.2,375.0 418.0,374.8 419.0,375.5 420.0,374.9 421.0,375.7 422.0,374.9 422.6,375.3 423.0,375.0 423.4,374.8 424.0,374.5 424.4,374.7 424.7,375.0 424.9,373.8 425.0,373.9 425.1,372.6 425.3,369.2 425.4,367.4 425.5,365.2 425.6,365.5 425.7,366.0 425.8,367.0 425.9,370.0 426.0,371.7 426.1,372.2 426.2,373.9 426.5,374.5 426.8,375.0 427.0,374.7 427.2,374.7 427.8,374.8 428.0,374.6 428.6,375.6 429.0,374.8 430.0,374.7 431.0,375.1 432.0,374.9 433.0,375.6 434.0,374.7 435.0,375.5 435.8,375.3 436.0,374.5 436.6,374.7 437.0,375.3 437.2,375.0 437.6,374.6 437.9,374.6 438.0,374.8 438.1,374.4 438.3,372.6 438.4,371.9 438.5,370.0 438.6,367.9 438.7,366.7 438.8,366.0 438.9,366.6 439.0,367.2 439.1,369.5 439.2,372.6 439.4,374.1 439.7,373.7 440.0,373.6 440.1,374.8 440.4,373.6 440.6,373.9 440.8,373.1 440.9,372.4 441.0,369.6 441.1,367.8 441.2,366.0 441.3,365.2 441.4,365.8 441.5,367.4 441.6,370.3 441.8,371.7 441.8,373.1 441.9,373.4 442.0,374.0 442.2,374.3 442.5,373.9 442.6,373.7 442.9,373.8 443.0,374.3 443.1,373.6 443.4,371.9 443.5,369.7 443.6,367.9 443.7,367.0 443.8,365.9 443.9,366.8 444.0,367.5 444.1,370.4 444.2,372.4 444.3,372.7 444.4,374.3 444.7,374.0 445.0,374.1 445.4,375.2 446.0,375.4 446.5,374.7 446.8,374.7 447.0,375.2 447.3,374.7 447.9,374.8 448.0,374.4 448.3,375.1 448.6,374.1 448.9,373.8 449.0,373.2 449.1,372.6 449.2,369.7 449.3,367.1 449.4,365.1 449.5,365.1 449.6,365.7 449.7,367.6 449.8,369.5 449.9,372.2 450.0,372.8 450.1,374.2 450.4,374.8 450.7,374.1 451.0,375.3 451.1,374.7 451.3,374.4 451.7,374.4 452.0,374.6 452.1,374.9 452.5,374.8 452.7,375.0 453.0,375.3 453.1,375.3 453.4,374.2 453.6,373.8 453.9,373.5 454.0,372.0 454.1,370.7 454.2,369.1 454.3,368.8 454.4,369.8 454.5,370.3 454.6,371.5 454.8,373.4 454.9,374.7 455.0,374.2 455.2,374.6 455.5,375.2 455.9,375.1 456.0,374.5 456.3,375.1 456.5,374.9 457.0,374.9 457.1,375.0 457.3,374.4 457.7,375.1 458.0,374.1 458.1,374.3 458.4,374.4 458.6,373.4 458.9,372.1 459.0,368.9 459.1,367.4 459.2,366.2 459.3,364.5 459.4,366.2 459.5,367.6 459.6,369.8 459.8,371.7 459.9,373.5 460.0,374.1 460.2,374.7 460.5,374.2 460.9,374.3 461.0,375.4 461.5,375.3 462.0,375.4 462.3,374.5 463.0,374.7 464.0,375.3 465.0,375.7 466.0,374.9 467.0,375.5 468.0,375.5 469.0,375.3 470.0,375.3 471.0,375.2 472.0,375.3 473.0,375.3 474.0,375.0 475.0,375.3 476.0,375.7 477.0,374.8 478.0,374.7 478.8,375.6 479.0,375.4 479.6,374.7 480.0,374.6 480.2,375.4 480.6,374.4 480.9,373.9 481.0,373.9 481.1,373.6 481.4,373.0 481.5,370.6 481.6,368.1 481.7,366.7 481.8,366.6 481.9,366.1 482.0,367.9 482.1,369.9 482.2,372.9 482.4,374.3 482.7,374.9 483.0,375.1 483.4,374.3 484.0,374.9 484.8,374.8 484.9,374.4 485.0,375.5 485.7,374.6 486.0,374.4 486.3,374.7 486.7,373.9 487.0,374.2 487.2,373.4 487.4,371.7 487.6,367.7 487.7,364.5 487.8,362.9 487.9,362.4 488.0,363.1 488.1,365.4 488.2,367.8 488.4,371.0 488.6,373.3 488.8,374.3 489.0,374.6 489.1,374.3 489.5,375.0 490.0,374.9 490.1,375.4 490.9,375.5 491.0,375.0 492.0,374.9 493.0,375.2 493.8,375.0 494.0,375.3 494.6,375.0 495.0,374.7 495.2,374.6 495.6,374.6 495.9,374.3 496.0,374.6 496.1,374.9 496.4,373.5 496.5,373.4 496.6,371.9 496.7,371.6 496.8,371.5 496.9,371.6 497.0,372.1 497.1,372.4 497.2,373.9 497.4,374.7 497.7,375.1 498.0,375.4 498.1,374.7 498.4,374.9 498.9,375.5 499.0,375.3 499.5,374.4 499.8,374.5 499.9,374.9 500.0,375.3 500.2,374.7 500.4,374.1 500.6,373.2 500.8,371.0 500.9,369.4 501.0,367.6 501.1,367.2 501.2,367.6 501.3,368.7 501.4,370.5 501.6,372.2 501.8,374.4 502.0,374.9 502.3,374.5 502.7,374.4 503.0,375.1 503.3,374.7 504.0,374.7 504.1,374.6 505.0,374.9 506.0,374.6 507.0,375.0 508.0,375.6 509.0,375.5 510.0,375.5 510.8,375.4 511.0,374.9 511.4,374.7 511.8,375.2 512.0,374.4 512.1,374.5 512.4,373.3 512.5,372.3 512.7,369.2 512.8,367.9 512.9,366.1 513.0,365.4 513.1,366.1 513.2,367.5 513.3,369.5 513.5,371.7 513.6,373.9 513.9,374.9 514.0,374.4 514.1,374.8 514.2,374.6 514.6,374.7 514.7,375.1 515.0,374.6 515.1,374.5 515.2,375.2 515.4,374.4 515.6,374.1 515.9,373.2 516.0,371.8 516.1,370.5 516.2,369.9 516.3,369.8 516.4,370.2 516.5,371.3 516.6,372.5 516.8,373.7 517.0,374.0 517.0,374.6 517.1,374.6 517.2,374.7 517.5,374.3 517.7,374.7 517.9,374.6 518.0,374.7 518.1,375.0 518.4,374.6 518.5,374.4 518.6,374.3 518.8,374.3 518.9,373.2 519.0,372.4 519.1,372.2 519.2,370.8 519.3,370.7 519.4,371.2 519.5,371.9 519.6,372.9 519.8,373.7 520.0,374.4 520.0,374.3 520.2,374.4 520.5,374.1 520.6,374.2 520.9,374.2 521.0,374.0 521.1,374.8 521.4,373.8 521.5,372.3 521.6,371.1 521.7,369.6 521.8,369.5 521.9,370.4 522.0,371.4 522.1,372.2 522.2,373.9 522.3,373.3 522.5,374.4 522.7,374.3 523.0,375.1 523.1,375.0 523.4,374.8 523.7,374.4 524.0,374.4 524.1,374.7 524.4,374.6 524.6,374.2 524.8,373.8 524.9,374.3 525.0,373.0 525.1,372.4 525.2,371.5 525.3,370.3 525.4,370.8 525.5,371.5 525.6,372.5 525.8,374.2 526.0,374.4 526.0,375.1 526.2,374.9 526.5,375.0 526.6,375.1 526.9,374.3 527.0,375.0 527.1,375.0 527.4,373.6 527.5,372.8 527.6,372.1 527.7,371.2 527.8,370.4 527.9,370.6 528.0,371.8 528.1,372.0 528.2,373.3 528.3,373.6 528.5,374.4 528.6,374.1 528.7,375.1 529.0,375.2 529.2,374.2 529.4,374.6 529.6,374.5 529.9,374.9 530.0,374.4 530.1,374.2 530.3,373.8 530.4,374.0 530.5,371.9 530.6,371.3 530.7,370.3 530.8,370.6 530.9,371.2 531.0,371.3 531.1,372.4 531.2,374.0 531.5,374.6 531.7,375.1 532.0,374.5 532.1,374.2 532.4,374.7 532.6,374.0 532.9,374.0 533.0,372.8 533.1,370.8 533.2,370.2 533.3,369.3 533.4,370.8 533.5,371.4 533.6,372.2 533.8,373.8 533.8,374.0 534.0,374.5 534.0,375.0 534.2,375.1 534.5,374.9 534.9,374.6 535.0,374.5 535.5,375.0 536.0,375.3 536.3,375.0"/>
<polyline stroke="#27a650" stroke-width="1.0" points="32.0,375.8 33.0,375.1 34.0,375.5 35.0,375.5 36.0,374.9 37.0,374.7 38.0,375.3 39.0,374.7 40.0,375.1 41.0,375.7 42.0,375.6 43.0,374.7 44.0,374.7 45.0,374.9 46.0,375.6 47.0,374.6 48.0,374.9 49.0,374.7 50.0,374.8 51.0,375.2 52.0,374.8 53.0,375.1 54.0,375.5 55.0,375.5 56.0,375.1 57.0,375.5 58.0,375.3 59.0,375.6 60.0,374.9 61.0,375.0 62.0,375.3 63.0,375.7 64.0,375.3 65.0,375.2 66.0,374.9 67.0,374.9 68.0,374.9 69.0,375.8 70.0,375.7 71.0,375.7 72.0,375.2 73.0,375.5 74.0,375.0 75.0,375.2 76.0,374.8 77.0,375.1 78.0,374.9 79.0,374.7 80.0,375.7 81.0,374.7 82.0,375.6 83.0,375.4 84.0,374.6 85.0,375.0 85.8,375.5 86.0,375.4 86.4,374.7 86.8,374.7 87.0,374.3 87.1,373.7 87.3,372.8 87.4,372.2 87.5,368.4 87.7,362.1 87.8,356.1 87.9,351.9 88.0,349.3 88.1,351.5 88.2,355.5 88.3,361.8 88.5,368.8 88.7,372.5 88.8,373.4 88.9,373.7 89.0,373.4 89.2,373.6 89.5,373.7 89.6,373.7 89.8,372.9 90.0,370.9 90.0,369.7 90.1,367.6 90.2,365.0 90.3,362.4 90.4,362.0 90.5,363.1 90.6,364.9 90.7,368.2 90.8,370.8 91.0,373.4 91.0,372.9 91.3,373.9 91.6,374.8 92.0,374.1 92.6,375.0 93.0,375.4 93.4,375.6 94.0,375.3 95.0,375.0 96.0,375.0 97.0,375.4 98.0,374.7 99.0,374.6 100.0,375.7 101.0,375.4 102.0,374.8 103.0,375.1 104.0,374.9 105.0,375.6 106.0,374.9 107.0,375.5 108.0,375.4 109.0,374.8 109.1,374.7 109.9,374.9 110.0,374.8 110.5,374.8 110.9,374.2 111.0,374.6 111.2,373.9 111.5,372.5 111.7,369.9 111.8,364.7 111.9,360.0 112.0,356.3 112.1,355.3 112.2,356.7 112.3,359.2 112.4,364.1 112.5,368.9 112.8,372.6 112.9,373.3 113.0,373.8 113.3,374.4 113.7,374.8 113.8,374.1 114.0,373.7 114.3,374.8 114.6,374.4 114.7,374.0 115.0,373.1 115.1,372.8 115.2,373.5 115.2,372.7 115.5,370.8 115.6,367.1 115.7,364.1 115.8,361.3 115.9,358.4 116.0,356.1 116.1,352.0 116.2,348.6 116.2,343.1 116.3,313.9 116.5,267.1 116.5,250.1 116.6,233.9 116.7,209.9 116.8,200.8 116.9,210.0 117.0,235.2 117.1,268.8 117.2,302.4 117.2,316.3 117.5,356.0 117.5,361.6 117.6,368.1 117.7,370.7 117.9,373.1 118.0,372.3 118.1,371.5 118.2,369.4 118.3,355.8 118.4,348.8 118.5,332.2 118.6,312.0 118.7,296.1 118.8,289.4 118.9,295.5 119.0,311.9 119.1,332.0 119.2,356.1 119.5,370.0 119.7,373.9 119.8,373.7 120.0,374.2 120.4,374.8 121.0,374.6 121.8,374.9 122.0,374.9 123.0,374.9 124.0,375.4 125.0,374.7 126.0,375.1 127.0,374.7 128.0,375.4 129.0,375.0 130.0,375.8 131.0,375.2 132.0,375.4 133.0,375.2 134.0,375.6 135.0,375.4 136.0,375.4 137.0,374.6 137.9,374.7 138.0,375.5 138.7,375.0 139.0,375.7 139.3,375.2 139.7,375.4 140.0,375.2 140.2,375.3 140.4,374.4 140.6,373.9 140.7,372.6 140.8,371.9 140.9,371.5 141.0,371.8 141.1,373.1 141.2,373.5 141.3,373.6 141.4,373.8 141.6,374.6 141.8,374.8 142.0,374.6 142.1,374.2 142.3,374.4 142.5,374.8 142.6,374.4 142.7,373.7 142.8,372.4 142.9,372.3 143.0,371.6 143.1,371.9 143.2,373.2 143.3,373.0 143.4,373.9 143.7,374.4 143.9,375.4 144.0,375.2 144.2,375.1 144.6,375.5 145.0,375.1 145.2,375.6 146.0,375.5 147.0,374.9 148.0,374.9 149.0,375.2 150.0,375.0 150.4,375.4 151.0,375.1 151.2,375.1 151.8,369.9 152.0,360.9 152.2,343.0 152.5,284.6 152.8,203.0 152.9,127.7 153.0,109.1 153.1,76.4 153.2,51.0 153.3,34.7 153.4,29.2 153.5,34.6 153.6,51.1 153.7,76.3 153.8,126.8 154.0,183.6 154.1,202.5 154.3,283.6 154.4,307.9 154.6,342.3 155.0,369.3 155.2,373.3 155.6,374.9 155.8,375.1 156.0,374.7 156.2,373.7 156.4,373.7 156.5,374.5 156.8,373.0 156.9,369.1 157.0,366.5 157.1,361.7 157.2,356.2 157.3,352.3 157.4,350.3 157.5,352.2 157.6,356.2 157.7,361.5 157.8,368.6 158.0,372.7 158.1,373.0 158.3,374.1 158.6,373.9 159.0,374.6 159.6,374.8 160.0,375.2 160.4,374.9 161.0,375.5 162.0,374.9 163.0,375.5 164.0,374.6 165.0,374.7 166.0,375.4 166.8,375.3 167.0,374.6 167.4,374.3 167.8,374.9 168.0,374.2 168.1,373.4 168.3,371.6 168.6,358.7 168.7,337.1 168.8,319.8 168.9,305.2 169.0,299.9 169.1,305.3 169.2,319.6 169.3,337.5 169.4,358.2 169.7,371.2 169.7,372.2 169.9,374.1 170.0,373.3 170.2,374.3 170.3,374.2 170.6,373.5 170.7,374.3 171.0,373.4 171.2,371.4 171.2,370.3 171.4,358.9 171.5,352.7 171.6,336.7 171.7,320.0 171.8,304.5 171.9,299.7 172.0,305.2 172.1,319.8 172.2,337.3 172.3,358.2 172.5,368.9 172.6,370.1 172.8,373.1 173.0,371.9 173.1,371.7 173.1,371.0 173.2,365.5 173.4,356.0 173.5,347.6 173.6,340.2 173.7,338.1 173.8,340.7 173.9,347.6 174.0,355.3 174.1,363.4 174.2,365.9 174.2,368.5 174.3,371.7 174.6,373.1 174.9,374.0 175.0,374.3 175.3,374.6 175.6,374.3 175.9,374.6 176.0,373.6 176.3,373.2 176.6,372.1 176.7,368.7 176.8,366.7 176.9,356.2 177.0,348.9 177.1,342.1 177.2,339.8 177.3,341.8 177.4,348.4 177.5,356.9 177.7,366.3 177.8,372.0 177.8,372.3 178.0,373.2 178.1,373.3 178.4,374.1 178.6,374.2 178.8,374.0 179.0,374.9 179.2,374.3 179.4,374.5 179.6,374.3 179.9,372.9 180.0,369.9 180.2,363.3 180.2,358.3 180.3,336.5 180.5,305.6 180.6,283.3 180.7,267.5 180.8,261.1 180.9,267.0 181.0,283.7 181.1,305.7 181.2,337.1 181.3,345.7 181.4,362.7 181.7,372.2 182.0,373.3 182.2,372.1 182.4,366.6 182.4,364.3 182.6,351.8 182.7,340.8 182.8,333.4 182.9,329.9 183.0,332.8 183.1,341.9 183.2,351.9 183.3,364.8 183.6,372.0 183.8,374.3 184.0,374.2 184.1,373.8 184.5,374.9 185.0,374.5 185.1,374.9 185.9,375.6 186.0,375.3 187.0,374.5 188.0,375.5 188.4,375.6 189.0,374.9 189.2,374.6 189.8,374.7 190.0,374.6 190.2,373.9 190.5,374.4 190.8,372.2 190.9,363.6 191.0,360.2 191.1,349.3 191.2,338.6 191.3,329.1 191.4,325.0 191.5,328.2 191.6,338.1 191.7,349.2 191.8,363.8 192.0,370.4 192.1,372.0 192.3,373.9 192.6,374.2 193.0,374.8 193.6,375.0 194.0,375.5 194.4,375.0 195.0,375.2 196.0,375.4 197.0,374.8 198.0,375.2 199.0,374.8 200.0,375.1 200.8,375.1 201.0,375.5 201.6,375.5 202.0,374.6 202.2,375.1 202.6,374.3 202.9,373.8 203.0,373.9 203.2,372.9 203.3,371.2 203.5,367.2 203.6,363.0 203.7,361.5 203.8,360.4 203.9,360.5 204.0,363.7 204.1,366.7 204.2,370.2 204.4,373.4 204.7,373.4 205.0,374.2 205.1,374.4 205.4,375.0 205.9,374.6 206.0,374.5 206.5,374.7 206.8,374.7 206.9,374.5 207.0,374.0 207.2,374.7 207.4,373.4 207.7,371.9 207.8,369.6 207.9,368.5 208.0,365.9 208.1,366.0 208.2,366.5 208.3,367.7 208.4,370.2 208.6,371.9 208.8,373.3 209.0,373.8 209.1,374.6 209.3,374.0 209.7,374.7 209.9,374.8 210.0,374.1 210.3,375.1 210.5,374.0 210.9,374.0 211.0,374.4 211.1,373.7 211.2,374.1 211.4,372.6 211.7,368.1 211.8,359.9 211.9,353.5 212.0,348.5 212.1,346.7 212.2,347.9 212.3,353.1 212.4,359.5 212.6,366.9 212.8,372.2 212.8,372.9 213.0,372.5 213.1,371.3 213.2,369.2 213.3,364.8 213.3,360.7 213.6,330.5 213.7,293.9 213.8,268.9 213.9,249.7 214.0,242.2 214.1,250.0 214.2,268.0 214.3,293.4 214.4,330.3 214.6,355.4 214.7,360.9 214.9,372.5 215.0,372.9 215.1,374.1 215.2,374.4 215.3,374.3 215.6,374.0 215.6,373.5 215.8,372.5 215.9,370.3 216.0,369.1 216.1,367.8 216.2,367.5 216.3,367.6 216.4,369.9 216.5,370.8 216.7,372.3 216.8,373.5 217.0,374.3 217.1,373.9 217.4,374.9 217.8,374.6 218.0,375.1 218.4,374.8 219.0,374.9 219.2,375.6 220.0,375.1 221.0,375.7 222.0,375.4 223.0,375.4 224.0,375.4 224.8,375.1 225.0,374.8 225.6,375.1 226.0,374.2 226.2,374.4 226.6,374.8 226.9,373.2 227.0,369.9 227.2,362.5 227.3,334.1 227.5,299.7 227.6,276.9 227.7,259.0 227.8,252.0 227.9,259.4 228.0,275.9 228.1,300.2 228.2,334.4 228.4,362.3 228.7,372.6 229.0,374.0 229.4,374.2 229.5,374.9 230.0,374.7 230.3,374.1 230.8,374.8 230.9,374.8 231.0,374.9 231.3,374.3 231.6,374.1 231.8,371.7 232.0,365.9 232.1,361.6 232.2,344.8 232.3,331.9 232.4,320.0 232.5,315.3 232.6,320.5 232.7,331.8 232.8,345.7 232.9,362.5 233.0,365.0 233.2,372.1 233.4,373.6 233.7,373.9 234.0,374.3 234.1,374.1 234.7,374.1 234.9,374.3 235.0,374.8 235.5,374.0 235.9,374.6 236.0,373.6 236.2,373.5 236.4,371.0 236.7,360.2 236.8,341.7 236.9,327.2 237.0,314.3 237.1,309.5 237.2,314.2 237.3,327.6 237.4,341.9 237.6,360.7 237.8,371.8 238.0,373.5 238.3,374.3 238.7,375.1 239.0,375.0 239.3,374.4 240.0,375.0 240.1,375.4 241.0,375.0 241.8,374.6 242.0,374.5 242.4,375.1 242.8,374.2 243.0,373.8 243.1,373.7 243.3,372.7 243.6,368.0 243.7,359.5 243.8,352.7 243.9,346.8 244.0,344.5 244.1,347.2 244.2,352.3 244.3,358.9 244.4,367.7 244.7,372.9 244.8,373.8 244.9,373.2 245.0,374.1 245.2,374.0 245.4,373.5 245.6,374.4 245.8,374.0 246.0,373.7 246.1,373.0 246.2,373.2 246.3,371.3 246.6,362.4 246.7,346.4 246.8,332.2 246.9,322.3 247.0,317.5 247.1,321.2 247.2,332.9 247.3,346.2 247.4,357.7 247.4,361.4 247.7,371.4 247.8,373.4 247.9,373.8 248.0,373.2 248.1,373.8 248.2,372.9 248.3,373.4 248.6,371.4 248.6,370.7 248.7,368.7 248.8,365.8 248.9,363.9 249.0,363.0 249.1,364.6 249.2,365.7 249.3,368.0 249.4,371.7 249.7,373.4 249.9,374.7 250.0,373.8 250.2,374.4 250.6,374.2 251.0,375.0 251.2,375.2 251.4,375.2 252.0,374.1 252.4,374.7 252.7,374.1 252.9,372.7 253.0,372.8 253.2,371.1 253.3,367.4 253.4,364.1 253.5,361.2 253.6,360.6 253.7,361.5 253.8,363.9 253.9,367.7 254.0,369.9 254.1,371.0 254.2,372.7 254.5,373.9 254.8,374.8 255.0,374.2 255.2,374.2 255.8,374.7 256.0,374.5 256.6,375.1 257.0,374.9 258.0,375.4 259.0,375.4 259.4,374.9 260.0,375.5 260.2,375.4 260.8,375.2 261.0,375.1 261.2,374.8 261.5,374.4 261.8,371.0 261.9,359.3 262.0,352.5 262.1,337.6 262.2,319.3 262.3,306.0 262.4,300.1 262.5,304.9 262.6,320.4 262.7,337.5 262.9,358.4 263.0,369.2 263.1,371.4 263.1,372.5 263.3,373.2 263.6,373.7 263.7,373.7 264.0,373.5 264.1,373.6 264.4,373.8 264.6,373.3 264.6,373.1 264.9,369.8 265.0,364.3 265.1,360.3 265.2,355.6 265.3,355.4 265.4,356.2 265.5,360.1 265.6,364.2 265.8,369.8 265.9,373.0 266.0,372.8 266.2,373.9 266.5,373.7 266.9,375.0 267.0,374.9 267.5,374.5 267.6,374.6 268.0,374.6 268.3,374.3 268.4,374.8 269.0,374.8 269.4,374.0 269.7,372.6 269.9,363.3 270.0,358.6 270.1,336.7 270.3,305.3 270.4,284.5 270.5,268.0 270.6,261.4 270.7,267.8 270.8,283.8 270.9,305.7 271.0,327.8 271.1,337.4 271.1,345.2 271.2,362.4 271.5,372.0 271.7,373.4 271.8,374.0 272.0,374.1 272.1,373.9 272.2,374.1 272.4,373.1 272.6,371.1 272.8,365.5 272.9,362.7 273.0,347.2 273.1,334.2 273.2,324.3 273.3,319.5 273.4,324.4 273.5,334.8 273.6,346.7 273.8,362.8 273.9,371.8 274.0,372.2 274.2,373.6 274.5,373.9 274.9,374.5 275.0,375.0 275.5,374.7 276.0,375.4 276.3,374.9 277.0,375.3 278.0,374.9 279.0,375.3 280.0,375.4 281.0,375.2 282.0,374.9 283.0,374.7 284.0,374.8 285.0,375.3 286.0,375.2 287.0,374.7 288.0,375.4 289.0,374.7 290.0,374.7 291.0,375.6 291.6,375.0 292.0,375.0 292.4,375.1 293.0,374.8 293.4,374.4 293.7,374.9 293.9,373.9 294.0,373.5 294.1,372.6 294.1,372.1 294.3,369.8 294.4,367.1 294.5,365.2 294.6,364.4 294.7,366.0 294.8,367.8 294.9,369.7 295.0,371.3 295.1,372.1 295.2,373.7 295.5,373.5 295.8,374.0 295.9,374.0 296.0,373.8 296.2,374.0 296.4,373.9 296.6,372.0 296.8,368.6 296.9,366.4 297.0,365.1 297.1,363.9 297.2,364.3 297.3,366.6 297.4,368.4 297.6,372.1 297.6,372.3 297.8,373.4 298.0,374.6 298.3,374.2 298.7,374.8 299.0,374.4 299.3,374.8 300.0,374.9 300.1,375.7 301.0,375.4 302.0,374.8 303.0,374.7 303.9,374.7 304.0,375.0 304.7,375.2 305.0,375.4 305.3,374.9 305.7,374.3 306.0,373.9 306.2,373.9 306.4,372.3 306.6,369.8 306.7,366.9 306.8,365.1 306.9,364.5 307.0,365.6 307.1,367.7 307.2,369.2 307.4,371.7 307.6,373.3 307.8,374.3 308.0,374.2 308.1,374.7 308.5,374.7 308.9,374.8 309.0,374.3 309.1,374.7 309.5,374.6 309.9,374.5 310.0,374.0 310.2,373.6 310.4,372.9 310.6,372.0 310.6,371.5 310.8,367.7 310.9,364.9 311.0,362.6 311.1,362.3 311.2,362.4 311.3,364.2 311.4,367.4 311.6,370.7 311.8,372.7 312.0,373.6 312.3,374.2 312.4,374.5 312.7,373.2 312.9,372.7 313.0,372.4 313.1,371.3 313.3,367.3 313.4,364.6 313.5,362.7 313.6,361.4 313.7,362.7 313.8,364.4 313.9,367.4 314.0,370.6 314.1,371.1 314.1,372.0 314.2,373.0 314.5,373.6 314.8,374.8 315.0,374.5 315.2,374.4 315.8,374.9 316.0,375.1 316.3,375.2 316.6,374.6 317.0,375.3 317.1,374.7 317.7,374.4 318.0,374.0 318.1,374.9 318.4,374.0 318.6,372.4 318.9,366.2 319.0,354.0 319.1,345.2 319.2,337.4 319.3,335.0 319.4,337.3 319.5,345.9 319.6,354.6 319.8,366.1 319.9,372.8 320.0,373.5 320.2,373.8 320.5,374.5 320.9,374.8 321.0,375.2 321.5,374.6 322.0,375.1 322.2,375.2 322.3,374.9 323.0,374.3 323.6,375.0 324.0,373.8 324.3,373.9 324.6,372.4 324.8,367.6 324.9,359.9 325.0,353.2 325.1,347.6 325.2,345.4 325.3,346.6 325.4,352.8 325.5,359.5 325.6,367.9 325.9,372.6 326.0,374.1 326.1,373.5 326.4,374.8 326.8,375.2 327.0,374.8 327.4,375.0 328.0,374.5 328.2,375.4 329.0,375.5 330.0,374.7 331.0,375.1 332.0,374.7 332.6,375.6 333.0,375.3 333.4,375.4 334.0,374.8 334.4,374.9 334.7,373.9 334.9,373.5 335.0,373.3 335.1,371.9 335.3,368.0 335.4,365.0 335.5,363.5 335.6,362.4 335.7,363.2 335.8,365.3 335.9,368.7 336.0,370.4 336.1,371.3 336.2,373.3 336.5,374.3 336.8,374.6 337.0,374.9 337.2,375.1 337.8,375.4 338.0,374.8 338.6,375.0 339.0,375.4 340.0,375.3 340.4,374.6 341.0,375.1 341.2,374.9 341.8,374.9 342.0,374.4 342.2,374.7 342.5,374.4 342.8,373.9 342.9,372.2 343.0,371.1 343.1,369.1 343.2,366.7 343.3,365.7 343.4,365.3 343.5,365.1 343.6,367.0 343.7,368.9 343.9,372.4 344.0,373.5 344.1,374.1 344.1,373.7 344.3,373.8 344.6,374.3 344.7,374.1 345.0,374.0 345.1,374.4 345.4,373.9 345.6,372.9 345.6,372.7 345.9,370.5 346.0,365.7 346.1,362.4 346.2,359.4 346.3,357.3 346.4,358.8 346.5,362.3 346.6,365.5 346.8,370.1 346.9,373.3 347.0,373.1 347.2,373.5 347.5,374.0 347.9,374.5 348.0,374.7 348.5,374.3 349.0,374.5 349.3,375.1 349.7,375.2 350.0,375.0 350.5,375.1 351.0,374.6 351.1,375.1 351.5,374.0 351.8,374.3 352.0,373.6 352.1,373.3 352.2,370.2 352.4,364.0 352.5,359.7 352.6,356.3 352.7,354.6 352.8,356.2 352.9,359.8 353.0,364.0 353.1,370.0 353.4,372.6 353.6,374.2 353.8,374.4 353.9,374.1 354.0,374.8 354.3,374.9 354.6,374.1 354.9,374.3 355.0,374.6 355.2,374.9 355.6,374.6 355.7,374.4 355.9,374.2 356.0,373.7 356.1,373.4 356.4,369.3 356.5,364.9 356.6,360.6 356.7,357.2 356.8,355.3 356.9,356.7 357.0,360.8 357.1,364.8 357.2,369.8 357.4,372.9 357.7,373.3 358.0,374.4 358.4,375.2 358.7,374.8 359.0,375.2 359.5,374.1 359.8,375.2 360.0,374.6 360.1,374.7 360.5,374.7 360.8,373.7 361.0,373.4 361.1,373.2 361.2,369.5 361.4,362.8 361.5,357.5 361.6,353.2 361.7,351.4 361.8,353.3 361.9,357.2 362.0,363.3 362.1,369.4 362.4,373.5 362.6,374.2 362.9,374.1 363.0,374.2 363.3,375.1 363.9,375.4 364.0,374.5 364.7,375.2 365.0,374.8 366.0,374.5 366.5,374.6 367.0,374.9 367.3,374.5 367.9,375.2 368.0,375.0 368.3,374.5 368.6,373.6 368.9,372.9 369.0,369.6 369.1,368.0 369.2,359.9 369.3,353.0 369.4,347.5 369.5,345.3 369.6,347.5 369.7,352.3 369.8,359.5 369.9,367.6 370.0,369.1 370.1,372.8 370.4,374.4 370.7,374.7 371.0,374.2 371.1,374.4 371.7,375.4 372.0,374.5 372.5,375.0 373.0,374.8 374.0,374.7 375.0,375.6 376.0,374.7 377.0,375.6 378.0,375.1 379.0,375.4 380.0,374.9 381.0,375.5 382.0,375.2 383.0,375.5 384.0,375.3 385.0,375.6 386.0,375.0 386.8,374.6 387.0,374.3 387.4,374.8 387.8,374.6 388.0,374.3 388.1,373.5 388.4,373.4 388.6,370.9 388.7,366.0 388.8,362.4 388.9,359.2 389.0,359.2 389.1,359.5 389.2,362.0 389.3,365.7 389.4,370.0 389.6,373.7 389.9,374.4 390.0,374.7 390.2,374.1 390.6,374.2 391.0,374.6 391.2,375.1 392.0,374.7 393.0,374.9 393.6,375.1 394.0,374.9 394.4,374.5 395.0,374.5 395.4,374.2 395.7,374.2 395.9,373.0 396.0,372.9 396.1,371.2 396.2,370.5 396.3,368.6 396.4,366.0 396.5,364.2 396.6,363.7 396.7,364.4 396.8,366.6 396.9,369.0 397.0,370.3 397.1,371.1 397.2,372.9 397.2,372.7 397.5,372.9 397.8,373.5 397.8,372.2 397.9,370.8 398.0,370.9 398.1,368.7 398.2,366.4 398.3,364.3 398.4,363.7 398.5,364.6 398.6,366.2 398.7,369.2 398.8,371.0 398.9,371.1 399.0,373.4 399.1,373.3 399.3,373.8 399.6,374.3 400.0,374.8 400.2,374.5 400.6,373.9 400.7,374.0 400.9,373.5 401.0,373.7 401.1,372.0 401.4,367.5 401.4,364.6 401.5,359.2 401.6,352.1 401.7,345.7 401.8,343.6 401.9,346.0 402.0,351.6 402.1,358.5 402.2,366.9 402.4,372.1 402.5,372.1 402.7,372.4 402.8,373.1 403.0,371.9 403.1,372.0 403.1,371.1 403.2,370.0 403.4,365.1 403.5,361.2 403.6,358.4 403.7,356.9 403.8,358.0 403.9,361.0 404.0,364.6 404.1,369.4 404.4,372.3 404.5,373.3 404.6,373.1 404.8,373.9 404.9,373.1 405.0,373.0 405.1,373.4 405.2,373.4 405.3,372.8 405.4,371.9 405.6,369.4 405.8,363.3 405.9,359.1 406.0,356.0 406.1,354.9 406.2,355.8 406.3,359.5 406.4,363.4 406.5,367.0 406.6,369.5 406.7,372.0 406.8,372.2 406.9,373.5 407.0,373.1 407.2,373.0 407.3,372.6 407.4,372.0 407.6,370.4 407.7,369.5 407.8,365.8 407.9,362.7 408.0,360.9 408.1,359.1 408.2,360.7 408.3,363.7 408.4,365.8 408.6,369.8 408.8,373.2 409.0,373.4 409.1,373.8 409.3,374.6 409.7,374.4 409.9,374.0 410.0,375.2 410.3,374.7 410.7,374.0 411.0,375.1 411.1,374.3 411.3,374.4 411.7,374.7 412.0,374.2 412.2,373.4 412.3,372.6 412.4,370.6 412.6,365.1 412.7,362.0 412.8,358.9 412.9,357.7 413.0,359.2 413.1,362.3 413.2,365.0 413.4,370.1 413.6,372.5 413.7,373.0 413.8,373.4 414.0,373.4 414.1,374.2 414.4,373.8 414.5,373.8 414.6,372.5 414.9,370.3 415.0,366.2 415.1,363.6 415.2,360.5 415.3,360.1 415.4,360.9 415.5,363.3 415.6,367.0 415.8,370.8 415.9,373.2 415.9,373.3 416.0,373.8 416.2,373.6 416.5,374.9 416.9,374.4 417.0,375.1 417.5,374.6 418.0,375.1 418.3,374.9 419.0,375.5 420.0,375.7 421.0,374.8 422.0,375.7 422.9,375.6 423.0,375.6 423.7,374.7 424.0,374.6 424.3,375.3 424.7,374.7 425.0,374.6 425.2,374.2 425.4,371.9 425.6,369.8 425.7,367.4 425.8,365.7 425.9,364.5 426.0,365.8 426.1,367.9 426.2,369.4 426.4,372.7 426.6,373.3 426.8,374.4 427.0,375.1 427.1,374.7 427.5,374.5 428.0,375.0 428.1,375.4 428.9,375.1 429.0,375.7 430.0,374.9 431.0,374.9 432.0,375.8 433.0,375.8 434.0,375.2 435.0,374.7 436.0,375.6 436.1,374.6 436.9,375.6 437.0,374.5 437.5,374.6 437.9,375.1 438.0,374.1 438.2,374.0 438.4,373.5 438.6,373.4 438.6,372.3 438.8,370.2 438.9,367.8 439.0,366.8 439.1,366.2 439.2,366.2 439.3,368.1 439.4,370.3 439.6,372.2 439.8,373.9 440.0,373.6 440.3,374.4 440.4,374.6 440.7,373.8 440.9,374.1 441.0,373.0 441.1,372.0 441.1,371.7 441.3,369.1 441.4,368.0 441.5,366.1 441.6,365.6 441.7,366.5 441.8,367.1 441.9,369.5 442.0,371.1 442.1,372.0 442.1,372.4 442.2,373.0 442.5,373.7 442.8,373.8 442.9,374.6 443.0,373.8 443.2,374.1 443.4,373.7 443.6,372.2 443.8,369.4 443.9,367.7 444.0,366.9 444.1,365.8 444.2,366.5 444.3,368.1 444.4,369.8 444.6,371.8 444.6,373.0 444.8,374.4 445.0,374.8 445.3,374.4 445.7,374.8 446.0,374.5 446.3,375.0 446.8,375.3 447.0,375.0 447.1,374.6 447.6,374.7 448.0,374.3 448.2,374.6 448.6,374.3 448.9,373.8 449.0,374.3 449.1,373.8 449.4,371.7 449.5,368.7 449.6,366.1 449.7,364.8 449.8,364.1 449.9,364.6 450.0,366.3 450.1,369.0 450.2,371.7 450.4,373.9 450.7,373.7 451.0,375.1 451.4,375.3 451.6,375.4 452.0,374.4 452.4,375.0 452.8,374.7 453.0,374.7 453.4,374.9 453.7,375.1 453.9,374.4 454.0,374.5 454.1,373.7 454.3,371.5 454.4,369.8 454.5,369.2 454.6,368.9 454.7,368.8 454.8,370.6 454.9,371.7 455.0,372.9 455.1,372.8 455.2,374.9 455.5,374.1 455.8,374.4 456.0,375.3 456.2,375.4 456.6,375.3 456.8,375.4 457.0,374.4 457.4,375.5 457.6,375.4 458.0,375.0 458.4,375.0 458.7,374.1 458.9,373.9 459.0,373.5 459.1,372.2 459.3,369.4 459.4,367.9 459.5,365.5 459.6,364.8 459.7,365.7 459.8,367.7 459.9,369.1 460.0,371.4 460.1,372.7 460.2,373.5 460.5,374.4 460.8,375.2 461.0,375.1 461.2,375.0 461.8,375.1 462.0,374.6 462.6,374.5 463.0,375.7 464.0,375.1 465.0,374.9 466.0,375.0 467.0,375.7 468.0,375.1 469.0,375.5 470.0,374.6 471.0,375.6 472.0,375.1 473.0,375.4 474.0,375.5 475.0,374.7 476.0,375.4 477.0,375.1 478.0,375.0 479.0,374.9 479.1,375.5 479.9,374.4 480.0,374.9 480.5,374.4 480.9,374.8 481.0,374.3 481.2,374.5 481.4,374.5 481.6,372.9 481.8,369.6 481.9,368.1 482.0,366.1 482.1,365.6 482.2,366.9 482.3,368.2 482.4,369.7 482.6,372.5 482.8,374.4 483.0,374.2 483.3,374.7 483.7,374.8 484.0,374.3 484.3,375.5 485.0,374.5 485.1,374.6 485.2,374.5 486.0,375.1 486.6,374.9 487.0,374.0 487.3,373.6 487.6,373.2 487.8,370.4 487.9,367.2 488.0,363.4 488.1,361.1 488.2,360.3 488.3,361.6 488.4,364.4 488.5,367.4 488.6,370.8 488.9,373.1 489.0,373.9 489.1,373.6 489.4,374.6 489.8,374.7 490.0,374.7 490.4,375.1 491.0,375.4 491.2,374.6 492.0,375.3 493.0,375.2 494.0,375.6 494.1,374.8 494.9,375.1 495.0,375.5 495.5,375.0 495.9,375.0 496.0,375.5 496.2,375.1 496.4,374.1 496.6,374.5 496.8,373.4 496.9,372.0 497.0,371.6 497.1,370.5 497.2,371.5 497.3,372.4 497.4,373.1 497.6,373.4 497.8,374.5 498.0,375.4 498.3,375.2 498.4,375.0 498.7,374.9 499.0,375.0 499.2,374.8 499.3,375.3 499.8,374.7 500.0,375.2 500.1,374.7 500.2,375.1 500.5,374.4 500.8,373.8 500.9,372.2 501.0,372.4 501.1,370.2 501.2,368.9 501.3,368.0 501.4,367.2 501.5,368.0 501.6,369.2 501.7,370.2 501.9,372.6 502.0,374.3 502.1,373.6 502.3,374.4 502.6,374.8 503.0,374.9 503.6,375.3 504.0,375.2 504.4,375.5 505.0,375.7 506.0,375.7 507.0,374.9 508.0,374.9 509.0,374.8 510.0,375.3 510.3,375.5 511.0,375.4 511.1,375.4 511.7,374.5 512.0,374.9 512.1,374.3 512.4,374.7 512.6,373.7 512.9,373.0 513.0,370.5 513.1,369.0 513.2,367.7 513.3,367.1 513.4,368.1 513.5,368.7 513.6,370.7 513.8,372.6 514.0,373.8 514.0,374.1 514.2,374.8 514.4,374.4 514.5,374.6 514.9,374.4 515.0,374.3 515.4,374.3 515.5,374.2 515.7,374.6 516.0,375.0 516.0,374.0 516.1,373.8 516.3,372.3 516.4,371.0 516.5,370.4 516.6,370.8 516.7,371.0 516.8,371.4 516.9,372.4 517.0,372.7 517.0,373.5 517.2,374.9 517.4,374.6 517.5,375.1 517.8,374.2 518.0,374.2 518.2,375.0 518.4,374.2 518.7,375.3 518.8,375.1 519.0,374.6 519.0,374.9 519.1,374.1 519.1,373.9 519.3,372.2 519.4,371.6 519.5,370.1 519.6,370.8 519.7,370.3 519.8,371.9 519.9,372.3 520.0,373.5 520.0,373.5 520.2,374.2 520.5,374.7 520.8,374.4 520.9,374.9 521.0,375.2 521.2,375.0 521.5,374.6 521.6,373.1 521.8,371.9 521.9,370.8 522.0,369.7 522.1,369.6 522.2,370.2 522.3,371.2 522.4,372.5 522.5,373.4 522.6,373.9 522.8,374.8 523.0,374.6 523.3,375.0 523.4,375.2 523.7,375.0 524.0,375.4 524.3,374.4 524.4,374.7 524.7,374.9 525.0,374.7 525.0,374.0 525.1,374.5 525.1,374.3 525.3,372.1 525.4,371.3 525.5,371.0 525.6,370.0 525.7,371.0 525.8,371.8 525.9,372.4 526.0,373.1 526.0,374.0 526.2,374.2 526.5,374.8 526.8,375.2 526.9,375.2 527.0,374.2 527.2,375.2 527.5,373.8 527.6,373.9 527.8,372.7 527.9,370.7 528.0,369.9 528.1,370.3 528.2,370.1 528.3,371.0 528.4,372.0 528.5,374.1 528.6,373.3 528.8,374.8 528.9,374.6 529.0,374.2 529.3,374.7 529.5,375.1 529.7,375.2 529.9,374.3 530.0,374.4 530.2,374.8 530.3,375.0 530.5,374.5 530.6,374.2 530.6,374.1 530.8,371.9 530.9,372.0 531.0,370.2 531.1,370.4 531.2,370.6 531.3,371.4 531.4,372.7 531.5,373.7 531.8,374.4 532.0,375.1 532.3,374.8 532.4,375.3 532.7,375.2 533.0,374.6 533.0,374.7 533.1,373.8 533.3,373.2 533.4,371.7 533.5,370.8 533.6,371.4 533.7,371.3 533.8,371.4 533.9,372.5 534.0,373.9 534.0,373.7 534.1,374.3 534.2,375.0 534.5,374.3 534.8,374.7 535.0,374.8 535.2,374.6 535.8,374.5 536.0,374.7"/>
<path d="M153.45 29.5V321" stroke="#27a650" stroke-width="2.6"/>
<path d="M153.35 6V29.5" stroke="#1e1e1e" stroke-width="1.6"/>
</g>
<rect x="31" y="6.2" width="506" height="373.5" fill="none" stroke="#333" stroke-width="1.6"/>
<path d="M31.00 379.7V387.0 M62.56 379.7V383.5 M94.12 379.7V387.0 M125.69 379.7V383.5 M157.25 379.7V387.0 M188.81 379.7V383.5 M220.38 379.7V387.0 M251.94 379.7V383.5 M283.50 379.7V387.0 M315.06 379.7V383.5 M346.62 379.7V387.0 M378.19 379.7V383.5 M409.75 379.7V387.0 M441.31 379.7V383.5 M472.88 379.7V387.0 M504.44 379.7V383.5 M536.00 379.7V387.0" stroke="#333" stroke-width="1.5" fill="none"/>
<text x="31.00" y="407.5" text-anchor="middle" class="tl">10</text>
<text x="94.12" y="407.5" text-anchor="middle" class="tl">20</text>
<text x="157.25" y="407.5" text-anchor="middle" class="tl">30</text>
<text x="220.38" y="407.5" text-anchor="middle" class="tl">40</text>
<text x="283.50" y="407.5" text-anchor="middle" class="tl">50</text>
<text x="346.62" y="407.5" text-anchor="middle" class="tl">60</text>
<text x="409.75" y="407.5" text-anchor="middle" class="tl">70</text>
<text x="472.88" y="407.5" text-anchor="middle" class="tl">80</text>
<text x="536.00" y="407.5" text-anchor="middle" class="tl">90</text>
<text x="234.3" y="443" class="al" style="font-size:21.2px">Angle (º2θ)</text>
<text transform="translate(19.4,252.3) rotate(-90)" class="al" style="font-size:21.5px">Intensity (a.u.)</text>
<ellipse cx="163.25" cy="373.0" rx="16.6" ry="14.8" fill="none" stroke="#333" stroke-width="1"/>
<path d="M162.8 358.4L284 160M180.2 372L377.3 209.1" stroke="#555" stroke-width="0.8" fill="none"/>
<rect x="284.3" y="32.5" width="238.8" height="176.7" fill="#fff" stroke="none"/>
<rect x="284.3" y="32.5" width="238.8" height="176.7" fill="none" stroke="#666" stroke-width="1.3"/>
<path d="M284.50 209.2V212.2 M296.42 209.2V210.7 M308.33 209.2V212.2 M320.25 209.2V210.7 M332.16 209.2V212.2 M344.07 209.2V210.7 M355.99 209.2V212.2 M367.90 209.2V210.7 M379.82 209.2V212.2 M391.74 209.2V210.7 M403.65 209.2V212.2 M415.56 209.2V210.7 M427.48 209.2V212.2 M439.39 209.2V210.7 M451.31 209.2V212.2 M463.23 209.2V210.7 M475.14 209.2V212.2 M487.05 209.2V210.7 M498.97 209.2V212.2 M510.88 209.2V210.7 M522.80 209.2V212.2" stroke="#555" stroke-width="1" fill="none"/>
<g clip-path="url(#ci)" fill="none" stroke-linejoin="round">
<polyline stroke="#6a6a6a" stroke-width="0.9" points="284.3,191.6 284.7,192.4 285.3,193.1 286.0,191.8 286.1,191.4 287.0,191.3 287.8,191.1 288.2,191.2 288.2,191.3 289.1,191.5 289.6,191.7 289.7,191.1 290.5,190.8 290.9,192.0 291.2,192.6 292.1,191.8 292.7,192.4 293.0,191.5 293.7,191.2 294.2,191.6 294.9,192.2 295.4,192.0 295.8,191.5 296.2,190.8 296.5,191.9 297.3,191.5 297.7,192.2 298.0,191.6 298.5,190.6 299.1,190.6 299.5,190.0 299.9,189.8 300.7,191.4 300.9,191.7 301.1,190.7 302.4,191.0 302.3,191.5 302.8,192.3 303.5,190.9 303.7,190.9 304.3,191.7 304.6,191.2 305.9,190.1 306.1,191.3 306.2,190.2 306.6,189.7 307.5,190.7 307.8,189.7 308.5,190.0 308.7,190.2 309.2,190.9 310.2,190.6 310.1,189.7 311.2,190.9 311.6,190.1 312.3,189.3 312.2,188.8 313.1,188.8 313.3,190.0 313.9,190.6 314.6,190.2 315.2,189.6 315.2,189.3 316.0,189.7 316.9,188.7 317.0,189.5 317.7,189.9 317.6,188.7 318.4,188.7 318.7,189.1 319.4,188.2 319.6,189.3 320.6,189.8 320.7,188.9 321.4,188.5 321.9,187.4 322.9,188.4 322.9,188.5 323.1,188.8 324.2,188.7 324.4,187.3 325.2,187.0 325.3,187.1 326.0,187.6 326.4,187.7 326.9,186.8 327.7,185.7 327.9,185.5 328.7,184.5 328.7,183.4 329.8,179.3 330.2,176.8 330.9,173.2 330.7,171.6 331.7,171.2 332.2,171.7 332.5,174.7 333.1,176.4 333.6,178.4 334.0,179.5 334.2,178.2 335.0,177.5 335.9,176.0 336.2,174.6 336.3,171.9 336.9,168.2 337.9,163.2 338.2,156.5 338.4,146.7 339.1,133.2 339.4,112.4 340.3,84.7 340.2,45.8 340.8,20.0 341.8,20.0 341.7,20.0 342.5,20.0 342.6,20.0 343.8,20.0 344.2,20.0 344.7,20.0 344.9,20.0 345.7,20.0 346.2,20.0 346.5,20.0 346.7,20.0 347.6,20.0 348.0,20.0 348.6,20.0 349.1,20.0 349.2,20.0 349.7,20.0 350.5,20.0 351.2,20.0 351.2,20.0 351.9,20.0 352.9,20.0 353.2,20.0 353.5,58.6 354.3,92.6 354.8,118.3 354.8,137.1 355.5,149.1 356.3,157.9 356.4,163.7 356.8,168.3 357.2,170.9 357.9,173.0 358.7,173.5 359.0,175.9 359.9,175.9 360.1,176.7 360.6,176.8 360.8,178.7 361.9,179.1 362.0,178.9 362.4,178.9 362.7,180.5 363.6,181.2 364.2,182.2 364.6,182.7 365.2,183.4 365.1,182.7 366.0,183.2 366.2,184.0 367.1,183.4 367.4,183.2 367.9,183.3 368.9,184.3 368.8,183.7 369.5,183.0 369.9,184.6 370.2,183.9 371.3,183.9 371.8,184.7 371.8,185.5 372.9,185.8 373.2,186.2 373.3,185.3 373.7,185.4 374.8,185.9 374.6,185.8 375.8,185.9 376.1,185.2 376.2,185.4 377.0,186.6 377.2,187.3 377.9,186.4 378.1,187.0 378.7,187.4 379.2,186.3 380.3,186.7 380.2,187.9 381.1,187.5 381.5,187.8 381.7,187.1 382.8,186.7 383.3,187.7 383.4,186.9 384.3,187.6 384.6,187.7 385.2,188.0 385.6,189.1 386.0,189.5 386.7,189.3 386.7,188.2 387.4,188.6 387.9,187.8 388.4,187.9 388.9,187.8 389.3,187.9 390.0,188.1 390.5,189.0 391.0,188.8 391.4,188.4 392.0,188.2 392.8,188.5 393.4,187.9 393.7,189.3 394.2,188.3 394.7,188.3 395.0,188.3 395.4,189.3 395.6,188.9 396.3,189.4 397.1,189.1 397.4,189.9 398.0,189.8 398.1,190.7 399.0,190.1 399.7,189.4 400.0,190.1 400.4,189.7 401.2,189.1 401.9,188.9 402.2,188.6 402.5,188.6 403.4,189.6 403.3,188.9 403.9,188.6 404.7,189.3 405.3,190.3 405.8,190.1 406.4,191.0 406.2,190.5 406.7,190.7 407.3,189.7 408.3,189.8 408.5,189.1 409.2,190.0 409.4,189.8 409.7,189.2 410.4,189.5 411.2,190.6 411.4,190.2 412.2,189.9 412.2,190.3 412.9,189.9 413.7,190.0 413.9,190.0 414.4,189.7 415.1,190.1 415.2,190.5 416.3,190.9 416.1,190.4 417.1,191.1 417.7,190.3 417.7,190.0 418.6,190.5 418.6,189.5 419.3,189.6 420.4,189.8 420.3,189.1 420.7,188.7 421.8,189.5 422.1,189.9 422.2,190.3 422.9,189.9 423.2,190.4 424.2,190.0 424.4,190.7 425.1,190.2 425.6,190.8 426.2,190.1 426.4,190.6 427.2,191.0 427.8,190.0 427.8,190.1 428.2,190.3 428.8,190.3 429.1,191.1 430.4,191.5 430.7,191.1 431.2,191.1 431.6,190.3 432.1,190.4 432.4,190.1 433.0,191.1 433.9,191.5 434.2,191.9 434.3,191.2 434.8,190.4 435.5,190.0 436.2,189.6 436.2,189.5 436.6,189.2 437.5,190.5 438.3,191.3 438.6,190.6 439.0,191.0 439.8,190.0 440.2,189.4 440.4,189.6 441.2,189.1 441.9,189.2 442.2,190.5 442.8,190.4 443.2,190.8 443.6,191.5 443.8,191.4 444.6,190.6 445.2,191.2 445.6,191.8 445.6,191.9 446.3,190.7 446.7,190.1 447.3,189.8 447.8,189.3 448.7,190.1 449.0,189.7 449.6,189.8 450.3,189.6 450.4,190.0 450.9,190.3 451.4,191.2 452.0,190.5 452.9,189.9 453.2,189.4 453.4,189.5 453.7,190.4 454.5,190.8 455.1,191.6 455.4,190.5 456.2,189.9 456.8,190.5 456.8,190.9 457.3,190.2 457.9,190.2 458.3,190.0 458.9,189.6 459.8,190.3 459.8,191.4 460.2,190.8 461.1,191.8 461.1,190.7 462.1,191.1 462.2,189.2 462.6,187.6 463.5,185.0 463.8,180.2 464.1,173.8 464.9,166.6 465.5,160.5 466.1,157.0 466.7,156.6 466.6,160.3 467.8,165.5 467.7,171.8 468.7,178.5 468.7,182.9 469.7,186.0 469.8,187.7 470.2,188.7 471.2,190.2 471.8,191.1 472.0,191.9 472.8,190.5 473.2,189.7 473.7,189.6 473.8,190.1 474.8,189.4 475.3,190.6 475.8,191.3 476.0,191.4 476.5,190.9 476.6,189.9 477.1,189.8 477.9,189.8 478.7,189.5 479.3,189.4 479.6,189.8 479.8,189.4 480.7,189.9 480.7,190.9 481.4,191.7 481.9,191.3 482.7,191.1 482.9,189.7 483.2,189.7 484.0,189.0 484.6,187.2 485.4,184.1 485.2,179.9 486.1,170.5 486.3,158.1 486.6,141.3 487.2,119.0 488.3,91.7 488.4,63.9 489.4,38.6 489.6,20.7 490.3,20.0 490.6,20.0 490.7,31.7 491.6,60.8 491.9,94.1 492.5,126.3 492.9,151.8 493.7,169.7 493.8,179.2 494.8,185.7 495.1,187.9 495.7,189.1 496.4,190.7 496.2,191.1 497.2,190.5 497.5,191.4 498.2,192.0 498.8,191.2 498.9,191.1 499.2,190.9 500.2,190.7 500.3,190.7 501.3,190.8 501.4,189.8 502.0,190.3 502.4,190.7 503.2,190.7 503.2,189.9 504.4,190.9 504.5,191.6 505.2,190.3 505.7,189.4 505.6,189.3 506.4,188.8 506.8,189.1 507.9,189.3 507.7,189.9 508.6,190.4 509.4,189.5 509.7,189.1 509.8,190.5 510.8,191.2 511.4,190.1 511.8,189.7 512.2,190.1 512.3,189.7 513.0,190.7 513.1,190.3 514.2,189.3 514.7,188.8 515.4,189.6 515.4,190.2 515.8,189.3 516.7,188.9 516.9,188.5 517.1,189.9 517.7,189.8 518.8,189.6 518.8,189.0 519.5,189.3 520.3,188.6 520.2,185.9 521.1,181.3 521.5,173.9 522.0,164.8 522.8,151.4 523.2,131.4"/>
<polyline stroke="#ff7070" stroke-width="0.9" points="284.4,191.1 284.8,190.5 285.7,191.6 286.2,191.6 286.8,191.6 286.7,191.9 287.5,192.0 287.8,192.0 288.3,192.3 288.8,191.6 289.2,191.2 290.1,191.9 290.6,190.8 291.1,190.3 291.5,190.6 292.2,191.5 292.3,191.8 293.1,190.9 293.8,191.1 293.8,192.0 294.7,191.5 295.4,191.3 295.4,190.3 296.4,191.3 296.3,191.3 296.9,191.4 297.4,191.7 298.1,190.8 298.5,191.5 299.1,191.5 299.1,191.3 300.3,190.9 300.7,190.9 300.6,191.8 301.5,191.8 301.8,190.4 302.5,190.5 302.9,191.3 303.4,191.6 304.4,192.0 304.8,190.7 304.9,189.8 305.4,190.8 305.6,189.7 306.8,190.9 306.9,191.5 307.6,190.6 308.1,189.5 308.2,189.1 308.8,190.0 309.6,190.9 310.1,190.7 310.9,189.9 311.3,188.9 311.6,189.3 311.9,189.6 312.4,189.0 312.8,189.5 313.7,190.1 313.7,188.9 314.5,189.8 315.0,189.0 315.7,189.2 316.3,189.1 316.8,188.1 316.9,188.9 317.2,188.1 318.1,188.7 318.2,188.8 319.0,187.9 319.3,187.3 319.8,186.8 320.7,187.4 320.8,186.7 321.3,186.9 321.6,187.1 322.3,186.7 322.8,187.7 323.7,188.0 323.9,188.0 324.5,187.2 324.8,186.8 325.1,186.5 325.9,186.7 326.4,185.6 327.0,184.8 327.9,185.1 328.1,184.2 328.3,184.4 329.1,183.0 329.5,180.4 330.3,178.7 330.1,175.8 331.2,171.3 331.3,165.7 331.9,161.3 332.4,158.1 333.2,156.0 333.7,154.4 334.2,155.7 334.2,156.5 335.2,158.5 335.3,160.0 336.2,160.4 336.7,158.6 337.4,155.4 337.9,148.3 337.7,139.9 338.4,125.9 339.1,107.9 339.8,82.4 340.1,48.7 340.8,20.0 340.7,20.0 341.8,20.0 342.0,20.0 342.6,20.0 343.2,20.0 343.1,20.0 343.8,20.0 344.7,20.0 345.1,20.0 345.7,20.0 345.9,20.0 346.9,20.0 346.8,20.0 347.9,20.0 347.8,20.0 348.1,20.0 348.6,20.0 349.8,20.0 350.1,20.0 350.2,20.0 351.3,20.0 351.8,20.0 351.6,20.0 352.9,20.0 352.9,20.0 353.4,20.0 354.0,55.7 354.2,85.0 355.3,106.7 355.3,124.1 355.8,135.5 356.5,144.1 357.1,150.8 357.6,154.3 357.9,157.2 358.4,159.7 359.2,162.1 359.7,164.7 359.8,166.2 360.5,168.4 361.1,169.4 361.8,171.1 362.2,173.1 362.6,173.0 362.6,173.4 363.3,174.3 364.1,174.6 364.8,175.4 364.7,178.0 365.2,180.5 366.3,181.8 366.7,182.5 366.8,183.4 367.5,184.9 368.3,185.8 368.9,185.8 369.2,186.6 369.7,186.8 369.7,186.2 370.8,187.2 371.3,187.7 371.8,188.5 371.9,189.0 372.4,187.5 373.1,188.2 373.3,186.8 373.6,186.0 374.5,185.3 375.2,184.1 375.2,180.8 376.4,177.3 376.2,173.6 376.7,168.6 377.2,165.4 378.0,164.1 378.6,163.4 379.1,164.3 379.9,166.1 380.4,171.2 380.2,175.1 381.0,178.2 381.5,181.6 382.4,185.0 382.7,187.1 383.0,188.2 383.3,188.5 384.2,189.8 384.1,190.0 384.9,190.3 385.4,189.6 385.8,190.0 386.2,189.9 386.8,190.2 387.3,190.5 387.6,190.1 388.1,189.3 388.9,188.8 389.5,188.1 389.9,188.0 390.5,187.7 390.9,188.2 391.2,188.9 391.8,190.0 392.7,188.9 392.9,189.9 393.6,190.8 393.6,189.8 394.7,190.2 394.8,190.9 395.8,191.5 395.9,190.8 396.6,189.8 397.3,189.9 397.5,189.2 397.6,189.6 398.6,188.8 399.0,190.0 399.9,189.3 399.9,189.3 400.3,189.1 401.0,189.8 401.6,190.2 401.8,190.5 402.1,190.9 403.0,190.2 403.7,190.9 403.6,191.5 404.7,190.6 405.1,190.5 405.7,191.3 405.6,190.2 406.8,190.2 407.3,189.8 407.1,189.3 407.7,189.1 408.7,189.8 409.3,189.8 409.1,190.3 409.7,190.0 410.3,189.5 411.2,189.3 411.3,190.5 412.0,190.4 412.5,190.2 413.0,189.9 413.2,190.6 413.8,189.4 414.2,189.9 414.9,190.0 415.7,189.3 416.3,190.2 416.6,190.2 417.4,190.2 417.4,189.8 418.1,189.9 418.3,189.1 419.2,189.9 419.3,189.8 420.3,189.7 420.4,190.1 421.0,189.7 421.1,189.7 421.7,190.6 422.4,190.8 422.9,190.2 423.2,189.2 423.7,189.2 424.1,188.7 425.2,188.8 425.7,188.4 425.7,189.6 426.3,189.8 426.6,190.8 427.2,190.4 427.8,190.8 428.2,189.6 428.6,190.7 429.6,190.7 430.3,190.0 430.5,190.2 431.0,189.2 431.5,188.9 432.4,188.5 432.3,189.7 432.8,189.6 433.4,189.0 433.8,189.2 434.7,190.1 435.2,190.9 435.3,190.8 436.0,191.0 436.8,190.9 437.1,190.3 437.4,189.8 437.8,190.3 438.8,190.4 439.3,189.8 439.8,190.2 440.4,190.2 440.8,190.6 440.7,191.1 441.9,190.0 442.3,190.2 442.7,189.4 443.3,188.7 443.7,188.1 444.2,187.7 444.2,188.6 445.0,187.9 445.4,188.6 446.2,189.5 446.6,188.8 446.8,189.0 447.7,189.6 448.3,188.0 448.9,187.3 449.0,186.3 449.2,185.6 450.0,185.3 450.8,185.0 450.9,185.0 451.2,183.9 451.9,183.8 452.8,182.4 452.7,182.5 453.5,182.4 453.9,181.5 454.7,179.6 454.7,179.2 455.6,178.8 455.9,177.7 456.9,175.9 457.4,173.6 457.4,171.8 458.2,169.5 458.8,165.7 458.8,160.8 459.5,151.9 460.0,139.3 460.7,122.6 461.0,101.2 461.9,72.0 462.1,35.9 462.8,20.0 463.0,20.0 463.7,20.0 464.3,20.0 464.6,20.0 464.7,20.0 465.1,20.0 466.1,20.0 466.3,20.0 467.0,20.0 467.7,20.0 467.9,20.0 468.5,20.0 469.0,20.0 469.4,20.0 469.9,36.6 470.8,72.4 471.2,100.3 471.8,122.5 472.2,137.9 472.3,149.3 473.4,156.3 473.2,162.1 473.7,164.0 474.6,165.2 474.9,165.9 475.8,165.3 476.3,164.9 476.8,164.7 476.6,165.9 477.6,165.6 477.7,166.5 478.2,167.6 479.4,169.3 479.1,170.7 480.2,171.9 480.5,172.7 480.8,174.7 481.6,175.0 482.2,174.4 482.3,174.3 483.2,173.9 483.6,172.6 484.1,170.5 484.5,166.0 484.9,159.2 485.6,150.3 486.0,138.6 486.9,120.5 487.2,99.7 487.3,75.4 488.1,50.2 488.8,24.2 488.8,20.0 489.3,20.0 489.9,20.0 490.3,20.0 490.8,20.0 491.1,24.2 492.3,48.7 492.7,74.4 493.0,99.9 493.6,120.3 493.7,136.7 494.7,149.1 494.7,158.3 495.8,164.0 496.0,167.8 496.5,171.7 497.2,174.6 497.8,176.1 497.7,176.2 498.8,176.5 498.8,178.4 499.2,179.5 499.6,181.1 500.9,181.5 500.7,182.9 501.3,182.5 501.7,183.0 502.4,183.9 502.6,184.5 503.3,184.4 503.7,184.4 504.8,185.3 504.7,185.2 505.7,185.3 506.3,185.1 506.6,185.7 507.4,186.3 507.6,186.5 508.1,187.7 508.4,187.6 509.2,188.3 509.6,188.7 509.7,188.5 510.4,188.6 511.2,187.6 511.1,187.0 511.8,188.1 512.5,187.9 513.1,188.3 513.6,188.2 513.6,188.8 514.7,187.7 514.8,188.7 515.4,187.7 516.0,188.4 516.9,188.7 516.9,188.4 517.6,188.3 518.3,187.4 518.5,185.8 519.1,183.2 519.3,180.9 519.8,176.2 520.6,170.3 521.2,159.7 521.5,145.9 521.9,127.3 522.6,103.0 523.2,75.5"/>
<polyline stroke="#7070ff" stroke-width="0.9" points="284.6,194.0 284.8,193.6 285.9,193.9 286.3,193.6 286.5,192.6 287.0,192.3 287.8,193.0 288.3,193.2 288.2,192.9 289.2,193.0 289.1,193.5 289.8,193.0 290.8,193.0 290.6,192.7 291.8,193.7 291.6,194.1 292.2,193.2 292.7,194.1 293.3,193.0 293.8,193.6 294.3,194.4 294.8,194.2 295.8,193.4 295.8,194.2 296.1,193.5 296.9,192.7 297.6,192.9 297.7,192.7 298.4,192.9 299.4,192.6 299.1,193.0 300.4,193.9 300.9,193.3 301.3,192.3 301.8,191.8 302.4,192.5 302.6,192.2 302.7,193.2 303.5,192.4 303.6,191.7 304.4,191.0 305.0,191.9 305.1,192.3 306.1,191.5 306.1,191.1 307.1,190.7 307.5,192.2 307.8,191.2 308.7,191.9 309.0,191.4 309.5,190.7 310.0,191.7 310.3,192.3 311.0,192.5 311.2,192.4 312.1,192.0 312.5,191.4 312.9,190.5 313.6,191.8 314.3,191.7 314.5,192.0 315.3,191.5 315.5,191.5 315.7,191.1 316.6,190.5 317.2,190.7 317.4,190.7 317.8,190.8 318.6,191.7 319.0,190.8 319.9,191.3 320.3,191.3 320.4,191.5 321.0,190.8 321.6,189.6 322.2,189.8 322.9,189.5 323.1,190.1 323.8,189.3 324.1,189.8 324.3,189.0 325.3,188.5 325.7,188.7 326.2,189.3 326.3,188.8 326.7,189.8 327.4,190.5 327.8,188.8 328.4,189.1 328.7,187.6 329.6,185.7 330.1,183.8 330.3,179.9 330.9,175.4 331.3,169.7 332.1,163.6 332.7,157.9 333.3,154.8 333.3,156.2 334.1,160.7 334.7,166.8 335.0,173.0 335.7,177.0 336.0,180.6 336.6,181.6 336.8,179.8 337.2,177.0 338.2,171.3 338.4,162.5 339.1,150.6 339.3,131.6 339.9,105.1 340.9,68.6 340.8,20.1 341.6,20.0 341.6,20.0 342.6,20.0 342.6,20.0 343.2,20.0 344.0,20.0 344.7,20.0 344.9,20.0 345.3,20.0 345.6,20.0 346.8,20.0 346.6,20.0 347.4,20.0 348.0,20.0 348.3,20.0 349.1,20.0 349.2,20.0 350.1,20.0 350.8,20.0 351.0,20.0 351.6,20.0 352.0,20.0 352.4,20.0 353.4,39.9 353.5,83.3 353.6,115.2 354.6,139.2 355.4,155.8 355.6,166.9 355.7,175.1 356.2,180.1 357.2,183.5 357.8,185.5 357.7,185.3 358.2,186.0 358.7,187.5 359.7,187.1 360.3,186.7 360.5,186.8 360.7,187.7 361.4,186.5 361.8,186.1 362.3,184.5 362.9,183.3 363.1,182.6 364.4,182.6 364.3,182.9 364.7,185.2 365.4,186.7 365.9,187.4 366.6,189.1 367.1,189.0 367.2,190.4 367.7,190.7 368.2,189.9 369.1,190.1 369.6,190.5 369.8,190.5 370.2,189.8 370.7,190.9 371.4,191.2 372.0,191.4 372.7,191.5 372.6,190.9 373.1,189.8 373.9,187.8 374.5,184.0 375.0,179.4 375.2,173.9 375.9,166.4 376.9,159.0 376.9,150.2 377.4,143.8 378.3,141.4 378.8,140.8 379.3,145.6 379.1,152.0 379.7,160.5 380.2,169.0 380.7,176.0 381.3,181.6 382.3,184.5 382.6,187.7 382.9,188.8 383.3,189.8 383.7,190.6 384.3,189.9 385.1,190.2 385.6,190.8 386.3,190.5 386.5,190.6 387.2,190.0 387.7,189.4 388.4,190.2 388.5,191.1 388.9,191.3 389.8,190.6 390.2,190.5 390.2,189.6 391.1,190.7 391.6,191.2 392.0,190.4 392.6,190.6 393.0,191.6 393.6,191.7 394.4,190.6 394.9,190.5 394.8,191.4 395.6,191.4 395.8,191.6 396.3,190.7 397.4,190.5 397.6,190.5 397.7,191.7 398.9,191.2 399.2,190.8 399.9,191.5 399.9,190.5 400.4,191.4 401.2,190.6 401.6,190.2 402.2,191.1 402.3,191.5 403.1,191.5 403.7,190.8 404.3,191.7 404.7,191.4 405.0,192.2 405.3,191.5 406.3,190.5 406.5,191.7 407.3,192.0 407.4,190.7 408.1,190.9 408.5,190.3 408.6,190.2 409.7,191.0 410.1,191.9 410.6,192.1 410.9,191.1 411.5,190.5 412.0,191.3 412.2,190.2 413.1,190.9 413.3,191.1 414.2,190.5 414.4,190.2 414.7,191.0 415.3,191.5 416.2,192.0 416.8,192.1 417.3,192.5 417.8,191.3 417.8,190.4 418.4,191.3 418.8,191.7 419.1,190.7 420.3,191.6 420.5,192.3 420.9,192.3 421.3,191.1 422.0,191.2 422.5,190.2 422.6,190.3 423.4,189.7 424.2,191.2 424.6,190.7 425.0,191.7 425.8,190.6 426.3,191.1 426.9,191.7 426.8,192.0 427.3,190.6 427.8,190.6 428.3,190.7 428.8,191.1 429.2,191.0 430.4,191.2 430.4,191.7 431.3,192.1 431.8,191.6 431.7,190.6 432.4,191.5 433.2,190.6 433.2,190.4 433.9,190.4 434.2,190.8 435.1,191.8 435.5,191.0 435.6,191.8 436.3,191.1 437.4,191.2 437.5,191.2 438.1,190.2 438.3,189.8 439.0,190.5 439.3,190.0 440.3,189.5 440.5,191.0 441.3,191.5 441.1,192.1 442.2,191.0 442.3,191.6 442.9,190.4 443.8,190.6 443.9,189.8 444.2,189.5 445.2,189.6 445.2,189.6 445.6,190.8 446.9,190.2 446.8,190.0 447.4,190.4 447.8,190.4 448.7,189.8 449.1,190.1 449.3,190.2 449.7,189.1 450.6,188.5 450.6,187.7 451.4,187.5 452.2,187.3 452.7,186.6 452.8,186.4 453.4,187.1 454.2,186.3 454.6,184.9 454.9,183.5 455.4,183.1 456.3,181.9 456.7,180.9 457.3,179.6 457.3,179.2 458.0,177.4 458.5,173.9 458.9,169.7 459.1,164.6 459.7,154.6 460.5,141.1 461.2,120.6 461.8,94.0 461.7,59.4 462.5,20.0 462.8,20.0 463.5,20.0 464.4,20.0 464.1,20.0 464.9,20.0 465.8,20.0 466.3,20.0 466.9,20.0 466.9,20.0 467.8,20.0 467.9,20.0 468.5,20.0 469.3,20.0 469.7,20.0 469.8,60.6 470.4,95.3 470.9,122.5 471.7,142.7 472.1,158.2 472.1,167.9 472.7,173.2 473.8,177.7 474.3,178.8 474.9,178.7 475.3,176.4 475.2,172.4 475.7,169.7 476.4,166.1 477.4,166.9 477.3,168.7 478.2,171.8 478.3,175.9 478.8,179.4 479.9,182.6 480.1,184.5 480.3,184.7 480.8,184.3 481.7,182.6 482.0,181.6 482.4,180.3 483.1,178.8 483.1,177.1 483.9,175.2 484.8,171.8 485.0,167.1 485.3,158.7 485.7,148.3 486.3,132.4 487.0,111.2 487.4,86.6 487.9,60.1 488.3,32.7 488.8,20.0 489.5,20.0 490.3,20.0 490.3,20.0 490.8,20.0 491.1,33.4 491.7,59.7 492.6,87.5 492.7,111.6 493.4,131.0 493.8,147.0 494.7,158.4 495.1,166.3 495.2,172.1 496.0,174.6 496.6,176.1 497.1,178.1 497.2,179.6 498.1,180.7 498.3,181.0 499.2,181.4 499.8,182.4 499.9,182.8 500.6,183.9 500.9,184.3 501.7,185.0 502.3,185.1 502.8,185.6 503.1,186.1 503.3,186.2 504.4,187.8 504.1,188.1 505.1,188.9 505.1,188.0 505.6,189.1 506.3,188.8 506.6,188.3 507.5,189.5 508.2,190.4 508.8,190.7 508.8,189.9 509.7,188.7 509.6,189.1 510.3,188.4 511.3,189.2 511.6,190.0 512.1,189.9 512.5,188.8 513.1,188.6 513.9,189.5 513.9,189.4 514.7,190.2 515.3,190.3 515.3,190.6 516.2,190.1 516.6,189.5 516.7,189.2 517.5,189.8 518.3,187.9 518.3,186.6 518.7,185.0 519.5,183.2 520.1,177.6 520.2,171.7 520.7,161.0 521.2,147.5 522.0,128.5 522.6,105.1 523.1,77.2"/>
<polyline stroke="#4cc07a" stroke-width="0.9" points="284.8,191.7 284.8,192.2 285.6,192.8 286.1,193.3 286.7,193.4 286.7,192.6 287.2,193.3 288.4,193.0 288.3,192.4 288.8,192.1 289.3,192.6 290.1,191.6 290.2,191.3 291.3,190.6 291.6,190.9 292.3,191.3 292.6,190.7 292.8,191.9 293.4,191.7 294.4,191.4 294.7,191.0 295.2,190.4 295.7,190.1 295.8,189.9 296.3,190.1 297.0,191.3 297.2,190.5 298.2,190.8 298.5,191.4 299.4,192.0 299.9,192.7 300.4,193.0 300.7,192.8 300.9,192.4 301.4,192.6 302.0,192.9 302.8,191.2 302.6,191.2 303.7,191.8 304.0,192.2 304.3,191.1 305.1,191.1 305.3,191.1 306.4,190.3 306.9,191.5 306.7,191.2 307.5,190.4 308.2,191.3 308.8,190.2 308.9,190.6 309.4,191.1 309.6,190.9 310.8,189.9 311.2,189.9 311.4,189.8 312.3,189.2 312.7,189.1 312.8,188.9 313.7,188.5 314.1,190.0 314.3,190.2 314.7,191.0 315.6,190.0 315.8,190.1 316.2,190.0 316.9,188.8 317.8,189.1 318.3,189.0 318.9,189.5 318.9,189.6 319.7,189.5 319.7,188.6 320.5,188.2 320.9,187.3 321.8,186.9 322.1,187.2 322.5,186.7 323.3,188.0 323.2,188.6 324.2,188.7 324.4,187.8 324.8,188.2 325.6,187.1 325.9,186.9 326.7,186.4 327.0,186.6 327.3,187.0 327.9,185.5 328.5,183.6 328.8,182.6 329.5,180.7 330.0,178.3 330.4,174.3 330.7,170.7 331.2,166.4 331.9,160.5 332.3,157.6 333.2,153.9 333.2,153.3 334.1,154.9 334.2,156.8 334.6,158.8 335.6,159.6 336.3,161.2 336.8,159.1 336.7,156.9 337.3,150.3 337.8,143.0 338.6,130.6 338.9,113.0 339.7,89.2 339.6,56.3 340.9,20.0 340.7,20.0 341.8,20.0 341.6,20.0 342.5,20.0 343.3,20.0 343.9,20.0 343.9,20.0 344.2,20.0 344.7,20.0 345.6,20.0 345.7,20.0 346.6,20.0 346.7,20.0 347.7,20.0 347.9,20.0 348.1,20.0 349.2,20.0 349.6,20.0 350.0,20.0 350.9,20.0 351.3,20.0 351.9,20.0 351.6,20.0 352.9,20.0 353.1,20.0 353.7,37.0 353.9,75.6 354.8,103.8 355.0,124.5 355.6,139.5 356.3,150.8 356.2,158.6 356.6,163.6 357.8,167.9 357.7,172.6 358.2,175.9 358.9,178.1 359.3,178.5 360.2,180.4 360.7,180.6 361.0,180.3 361.8,178.1 362.0,173.7 362.1,168.9 363.2,163.5 363.4,161.7 364.1,162.3 364.7,166.3 364.6,173.0 365.8,178.5 366.2,182.9 366.4,185.9 367.0,187.6 367.8,188.9 367.7,188.6 368.2,188.9 369.0,189.5 369.6,188.6 370.0,188.0 370.5,187.9 371.4,188.9 371.3,188.6 372.2,188.3 372.6,188.5 372.9,187.5 373.6,183.7 373.7,179.7 374.4,173.7 374.9,165.3 375.4,155.7 376.0,143.8 376.2,131.5 376.6,120.6 377.7,112.8 378.1,107.3 378.6,107.8 379.2,113.3 379.7,122.7 379.7,135.2 380.2,146.5 381.2,157.5 381.2,167.9 382.0,175.6 382.7,181.7 382.9,184.6 383.8,185.9 384.0,187.4 384.4,187.5 385.3,188.5 385.6,188.4 385.6,189.0 386.4,188.9 387.3,190.1 387.6,190.5 388.4,190.8 388.7,190.5 388.7,189.2 389.7,189.1 390.4,188.6 390.2,189.7 390.6,188.8 391.7,190.0 391.9,189.3 392.4,188.7 393.2,189.6 393.8,189.2 393.7,190.3 394.3,190.3 394.9,190.8 395.5,191.0 396.2,191.0 396.9,190.9 397.1,190.6 397.5,191.1 397.8,190.0 398.2,190.1 399.0,190.6 399.8,189.4 399.7,190.6 400.7,191.2 401.2,191.3 401.8,191.3 401.8,191.2 402.3,191.3 402.7,191.6 403.2,190.2 403.9,189.5 404.2,189.9 405.1,189.9 405.5,190.8 405.8,191.1 406.3,190.1 407.4,189.4 407.5,190.4 408.4,189.3 408.7,190.4 409.3,190.2 409.5,189.2 410.0,189.0 410.9,188.7 411.3,189.9 411.1,190.5 412.3,189.8 412.9,190.1 412.6,189.1 413.2,189.7 414.3,190.6 414.9,190.1 415.2,189.6 415.4,189.2 416.4,190.0 416.2,189.3 417.0,188.7 417.4,188.7 418.0,189.8 418.8,190.8 419.2,190.1 419.5,189.7 420.3,189.2 420.6,189.5 420.8,190.6 421.4,189.7 422.4,190.7 422.7,190.1 422.9,190.7 423.7,190.2 424.1,189.4 424.9,190.2 424.9,190.3 425.9,190.9 426.1,190.0 426.2,189.7 427.3,188.9 427.2,188.5 428.0,188.6 428.2,189.2 428.9,190.2 429.9,189.5 430.2,189.3 430.8,189.3 431.2,189.3 431.8,190.0 431.9,189.4 432.1,188.8 433.3,188.6 433.3,188.9 433.9,189.0 434.2,189.9 435.0,190.0 435.8,190.2 435.7,190.7 436.5,190.4 437.1,190.4 437.8,190.3 438.0,190.5 438.5,191.1 439.0,189.9 439.7,190.7 439.8,189.9 440.3,189.8 441.0,189.0 441.6,189.8 441.9,190.1 442.2,190.5 443.2,190.7 443.7,189.6 444.1,189.3 444.8,189.6 445.1,189.5 445.1,190.3 445.8,189.4 446.7,189.8 447.1,190.0 447.6,188.7 448.2,188.0 448.6,187.6 449.2,186.5 449.4,186.5 449.7,187.1 450.6,187.3 451.0,187.5 451.4,187.4 451.8,185.7 452.2,184.7 453.2,184.4 453.8,183.8 454.3,183.3 454.5,182.3 455.3,182.1 455.3,180.7 455.8,178.6 456.6,177.1 457.2,175.9 457.3,173.6 458.1,171.8 458.4,169.7 458.7,165.7 459.6,157.3 460.1,146.8 460.2,131.1 460.8,109.6 461.5,80.9 461.9,45.7 462.3,20.0 462.7,20.0 463.8,20.0 463.8,20.0 464.3,20.0 465.3,20.0 465.7,20.0 465.7,20.0 466.5,20.0 467.0,20.0 467.4,20.0 467.8,20.0 468.4,20.0 468.9,20.0 469.4,20.0 469.9,49.9 470.2,86.1 470.9,113.8 471.2,135.4 472.3,151.3 472.4,160.7 472.7,167.7 473.5,169.7 474.1,168.5 474.6,165.1 475.0,158.4 475.2,151.3 476.1,142.6 476.8,135.1 477.3,128.5 477.4,126.3 478.2,127.6 478.7,131.9 478.9,138.6 479.6,147.6 479.8,156.5 480.5,164.7 481.0,171.0 481.2,174.9 482.2,177.2 482.6,177.0 483.2,175.7 483.6,174.4 484.3,171.8 484.2,168.0 485.2,162.1 485.1,153.4 486.3,141.1 486.7,125.3 487.3,104.6 487.2,80.2 488.0,53.3 488.2,27.4 489.4,20.0 489.3,20.0 490.3,20.0 490.8,20.0 491.0,20.0 491.5,29.5 492.3,54.5 492.6,80.7 492.8,105.0 493.9,126.4 494.1,142.1 494.6,154.7 494.9,162.5 495.4,169.0 496.2,172.4 496.5,175.8 497.3,177.7 497.9,178.7 498.2,180.2 498.6,180.1 499.4,181.4 499.3,181.0 500.3,181.3 500.4,181.8 501.2,182.5 501.1,184.3 501.9,184.5 502.7,185.4 503.2,185.1 503.2,186.0 503.7,185.8 504.4,186.4 505.4,186.6 505.9,186.4 506.2,186.5 506.6,187.0 507.2,186.7 507.5,186.8 508.1,187.7 508.8,187.7 508.8,187.1 509.9,186.7 509.8,187.0 510.4,187.6 510.7,188.3 511.8,187.7 511.8,188.4 512.4,188.3 513.2,189.2 513.3,188.0 514.0,187.6 514.4,188.3 514.8,188.3 515.6,187.9 515.7,188.3 516.7,189.0 517.3,189.3 517.2,188.6 518.0,187.2 518.2,186.1 518.6,183.9 519.9,180.9 520.1,176.8 520.3,169.6 520.8,160.3 521.4,146.3 521.7,127.4 522.3,104.6 523.1,75.7"/>
<polyline stroke="#ff7070" stroke-width="0.9" stroke-dasharray="6 12" stroke-dashoffset="0" points="331.9,161.3 332.4,158.1 333.2,156.0 333.7,154.4 334.2,155.7 334.2,156.5 335.2,158.5 335.3,160.0 336.2,160.4 336.7,158.6 337.4,155.4 337.9,148.3 337.7,139.9 338.4,125.9 339.1,107.9 339.8,82.4 340.1,48.7 340.8,20.0 340.7,20.0 341.8,20.0 342.0,20.0 342.6,20.0 343.2,20.0 343.1,20.0 343.8,20.0 344.7,20.0 345.1,20.0 345.7,20.0 345.9,20.0 346.9,20.0 346.8,20.0 347.9,20.0 347.8,20.0 348.1,20.0 348.6,20.0 349.8,20.0 350.1,20.0 350.2,20.0 351.3,20.0 351.8,20.0 351.6,20.0 352.9,20.0 352.9,20.0 353.4,20.0 354.0,55.7 354.2,85.0 355.3,106.7 355.3,124.1 355.8,135.5 356.5,144.1 357.1,150.8 357.6,154.3 357.9,157.2 358.4,159.7 359.2,162.1 359.7,164.7"/>
<polyline stroke="#ff7070" stroke-width="0.9" stroke-dasharray="6 12" stroke-dashoffset="0" points="378.0,164.1 378.6,163.4 379.1,164.3"/>
<polyline stroke="#ff7070" stroke-width="0.9" stroke-dasharray="6 12" stroke-dashoffset="0" points="458.8,160.8 459.5,151.9 460.0,139.3 460.7,122.6 461.0,101.2 461.9,72.0 462.1,35.9 462.8,20.0 463.0,20.0 463.7,20.0 464.3,20.0 464.6,20.0 464.7,20.0 465.1,20.0 466.1,20.0 466.3,20.0 467.0,20.0 467.7,20.0 467.9,20.0 468.5,20.0 469.0,20.0 469.4,20.0 469.9,36.6 470.8,72.4 471.2,100.3 471.8,122.5 472.2,137.9 472.3,149.3 473.4,156.3 473.2,162.1 473.7,164.0"/>
<polyline stroke="#ff7070" stroke-width="0.9" stroke-dasharray="6 12" stroke-dashoffset="0" points="476.3,164.9 476.8,164.7"/>
<polyline stroke="#ff7070" stroke-width="0.9" stroke-dasharray="6 12" stroke-dashoffset="0" points="484.9,159.2 485.6,150.3 486.0,138.6 486.9,120.5 487.2,99.7 487.3,75.4 488.1,50.2 488.8,24.2 488.8,20.0 489.3,20.0 489.9,20.0 490.3,20.0 490.8,20.0 491.1,24.2 492.3,48.7 492.7,74.4 493.0,99.9 493.6,120.3 493.7,136.7 494.7,149.1 494.7,158.3 495.8,164.0"/>
<polyline stroke="#ff7070" stroke-width="0.9" stroke-dasharray="6 12" stroke-dashoffset="0" points="521.2,159.7 521.5,145.9 521.9,127.3 522.6,103.0 523.2,75.5"/>
<polyline stroke="#7070ff" stroke-width="0.9" stroke-dasharray="6 12" stroke-dashoffset="6" points="332.1,163.6 332.7,157.9 333.3,154.8 333.3,156.2 334.1,160.7"/>
<polyline stroke="#7070ff" stroke-width="0.9" stroke-dasharray="6 12" stroke-dashoffset="6" points="338.4,162.5 339.1,150.6 339.3,131.6 339.9,105.1 340.9,68.6 340.8,20.1 341.6,20.0 341.6,20.0 342.6,20.0 342.6,20.0 343.2,20.0 344.0,20.0 344.7,20.0 344.9,20.0 345.3,20.0 345.6,20.0 346.8,20.0 346.6,20.0 347.4,20.0 348.0,20.0 348.3,20.0 349.1,20.0 349.2,20.0 350.1,20.0 350.8,20.0 351.0,20.0 351.6,20.0 352.0,20.0 352.4,20.0 353.4,39.9 353.5,83.3 353.6,115.2 354.6,139.2 355.4,155.8"/>
<polyline stroke="#7070ff" stroke-width="0.9" stroke-dasharray="6 12" stroke-dashoffset="6" points="376.9,159.0 376.9,150.2 377.4,143.8 378.3,141.4 378.8,140.8 379.3,145.6 379.1,152.0 379.7,160.5"/>
<polyline stroke="#7070ff" stroke-width="0.9" stroke-dasharray="6 12" stroke-dashoffset="6" points="459.1,164.6 459.7,154.6 460.5,141.1 461.2,120.6 461.8,94.0 461.7,59.4 462.5,20.0 462.8,20.0 463.5,20.0 464.4,20.0 464.1,20.0 464.9,20.0 465.8,20.0 466.3,20.0 466.9,20.0 466.9,20.0 467.8,20.0 467.9,20.0 468.5,20.0 469.3,20.0 469.7,20.0 469.8,60.6 470.4,95.3 470.9,122.5 471.7,142.7 472.1,158.2"/>
<polyline stroke="#7070ff" stroke-width="0.9" stroke-dasharray="6 12" stroke-dashoffset="6" points="485.3,158.7 485.7,148.3 486.3,132.4 487.0,111.2 487.4,86.6 487.9,60.1 488.3,32.7 488.8,20.0 489.5,20.0 490.3,20.0 490.3,20.0 490.8,20.0 491.1,33.4 491.7,59.7 492.6,87.5 492.7,111.6 493.4,131.0 493.8,147.0 494.7,158.4"/>
<polyline stroke="#7070ff" stroke-width="0.9" stroke-dasharray="6 12" stroke-dashoffset="6" points="520.7,161.0 521.2,147.5 522.0,128.5 522.6,105.1 523.1,77.2"/>
<polyline stroke="#6a6a6a" stroke-width="0.9" stroke-dasharray="6 12" stroke-dashoffset="12" points="337.9,163.2 338.2,156.5 338.4,146.7 339.1,133.2 339.4,112.4 340.3,84.7 340.2,45.8 340.8,20.0 341.8,20.0 341.7,20.0 342.5,20.0 342.6,20.0 343.8,20.0 344.2,20.0 344.7,20.0 344.9,20.0 345.7,20.0 346.2,20.0 346.5,20.0 346.7,20.0 347.6,20.0 348.0,20.0 348.6,20.0 349.1,20.0 349.2,20.0 349.7,20.0 350.5,20.0 351.2,20.0 351.2,20.0 351.9,20.0 352.9,20.0 353.2,20.0 353.5,58.6 354.3,92.6 354.8,118.3 354.8,137.1 355.5,149.1 356.3,157.9 356.4,163.7"/>
<polyline stroke="#6a6a6a" stroke-width="0.9" stroke-dasharray="6 12" stroke-dashoffset="12" points="486.3,158.1 486.6,141.3 487.2,119.0 488.3,91.7 488.4,63.9 489.4,38.6 489.6,20.7 490.3,20.0 490.6,20.0 490.7,31.7 491.6,60.8 491.9,94.1 492.5,126.3 492.9,151.8"/>
<polyline stroke="#6a6a6a" stroke-width="0.9" stroke-dasharray="6 12" stroke-dashoffset="12" points="522.0,164.8 522.8,151.4 523.2,131.4"/>
</g>
<text x="284.50" y="222.2" text-anchor="middle" class="il">28.0</text>
<text x="308.33" y="222.2" text-anchor="middle" class="il">28.5</text>
<text x="332.16" y="222.2" text-anchor="middle" class="il">29.0</text>
<text x="355.99" y="222.2" text-anchor="middle" class="il">29.5</text>
<text x="379.82" y="222.2" text-anchor="middle" class="il">30.0</text>
<text x="403.65" y="222.2" text-anchor="middle" class="il">30.5</text>
<text x="427.48" y="222.2" text-anchor="middle" class="il">31.0</text>
<text x="451.31" y="222.2" text-anchor="middle" class="il">31.5</text>
<text x="475.14" y="222.2" text-anchor="middle" class="il">32.0</text>
<text x="498.97" y="222.2" text-anchor="middle" class="il">32.5</text>
<text x="522.80" y="222.2" text-anchor="middle" class="il">33.0</text>
<text x="401.7" y="74.7" class="na">NaNO<tspan dy="3" font-size="10.5">2</tspan></text>
<path d="M374.4 81.0H380.0V94.0H383.2L377.2 100.2L371.2 94.0H374.4Z" fill="#1d6fc6"/>
<path d="M360.8 139.9H366.0V150.6H368.7L363.4 156.2L358.1 150.6H360.8Z" fill="#1d6fc6"/>
<path d="M474.9 100.3H480.9V114.0H483.9L477.9 120.0L471.9 114.0H474.9Z" fill="#1d6fc6"/>
<rect x="405.4" y="227.6" width="124.2" height="95.5" fill="#fff" stroke="#444" stroke-width="1.1"/>
<path d="M414 240.6H457" stroke="#6e6e6e" stroke-width="1.3"/>
<text x="462" y="246.0" class="lg">SS</text>
<path d="M414 264.4H457" stroke="#ff6464" stroke-width="1.3"/>
<text x="462" y="268.0" class="lg">SS after</text>
<path d="M414 288.4H457" stroke="#6262ff" stroke-width="1.3"/>
<text x="462" y="290.3" class="lg">SSVA</text>
<path d="M414 313.0H457" stroke="#5cc07e" stroke-width="1.7"/>
<text x="462" y="316.4" class="lg">SSEAFS</text>
</svg></body></html>
